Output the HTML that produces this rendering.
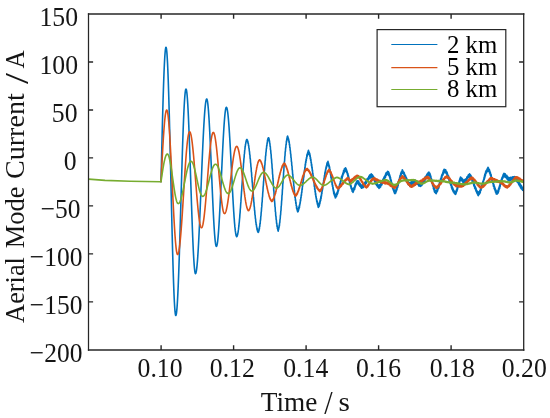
<!DOCTYPE html>
<html lang="en"><head><meta charset="utf-8"><title>Aerial Mode Current</title>
<style>html,body{margin:0;padding:0;background:#fff}body{width:550px;height:418px;overflow:hidden}</style></head>
<body>
<svg width="550" height="418" viewBox="0 0 550 418" style="display:block">
<rect x="0" y="0" width="550" height="418" fill="#fff"/>
<clipPath id="c"><rect x="88.5" y="14.1" width="435.2" height="335.8"/></clipPath>
<g clip-path="url(#c)" fill="none" stroke-linejoin="round" stroke-linecap="round">
<path d="M161.00,181.80 L161.20,173.35 L161.40,164.94 L161.60,156.60 L161.80,148.35 L162.00,140.24 L162.20,132.29 L162.40,124.53 L162.60,117.00 L162.80,109.73 L163.00,102.74 L163.20,96.07 L163.40,89.73 L163.60,83.75 L163.80,78.17 L164.00,72.99 L164.20,68.24 L164.40,63.94 L164.60,60.10 L164.80,56.75 L165.00,53.88 L165.20,51.53 L165.40,49.68 L165.60,48.36 L165.80,47.57 L166.00,47.30 L166.20,47.58 L166.40,48.40 L166.60,49.77 L166.80,51.69 L167.00,54.13 L167.20,57.10 L167.40,60.58 L167.60,64.56 L167.80,69.01 L168.00,73.93 L168.20,79.29 L168.40,85.07 L168.60,91.24 L168.80,97.79 L169.00,104.68 L169.20,111.88 L169.40,119.37 L169.60,127.12 L169.80,135.09 L170.00,143.24 L170.20,151.56 L170.40,160.00 L170.60,168.52 L170.80,177.10 L171.00,185.70 L171.20,194.28 L171.40,202.80 L171.60,211.24 L171.80,219.56 L172.00,227.71 L172.20,235.68 L172.40,243.43 L172.60,250.92 L172.80,258.12 L173.00,265.01 L173.20,271.56 L173.40,277.73 L173.60,283.51 L173.80,288.87 L174.00,293.79 L174.20,298.24 L174.40,302.22 L174.60,305.70 L174.80,308.67 L175.00,311.11 L175.20,313.03 L175.40,314.40 L175.60,315.22 L175.80,315.50 L176.00,315.29 L176.20,314.64 L176.40,313.57 L176.60,312.08 L176.80,310.17 L177.00,307.85 L177.20,305.13 L177.40,302.02 L177.60,298.54 L177.80,294.68 L178.00,290.48 L178.20,285.94 L178.40,281.09 L178.60,275.93 L178.80,270.50 L179.00,264.81 L179.20,258.88 L179.40,252.73 L179.60,246.39 L179.80,239.89 L180.00,233.24 L180.20,226.48 L180.40,219.62 L180.60,212.70 L180.80,205.74 L181.00,198.76 L181.20,191.80 L181.40,184.88 L181.60,178.02 L181.80,171.26 L182.00,164.61 L182.20,158.11 L182.40,151.77 L182.60,145.63 L182.80,139.69 L183.00,134.00 L183.20,128.57 L183.40,123.41 L183.60,118.56 L183.80,114.02 L184.00,109.82 L184.20,105.96 L184.40,102.48 L184.60,99.37 L184.80,96.65 L185.00,94.33 L185.20,92.42 L185.40,90.93 L185.60,89.86 L185.80,89.21 L186.00,89.00 L186.20,89.20 L186.40,89.79 L186.59,90.77 L186.79,92.15 L186.99,93.90 L187.19,96.03 L187.39,98.52 L187.58,101.37 L187.78,104.56 L187.98,108.07 L188.18,111.91 L188.38,116.03 L188.57,120.44 L188.77,125.11 L188.97,130.02 L189.17,135.15 L189.36,140.48 L189.56,145.98 L189.76,151.63 L189.96,157.41 L190.16,163.29 L190.35,169.25 L190.55,175.26 L190.75,181.30 L190.95,187.34 L191.15,193.35 L191.34,199.31 L191.54,205.19 L191.74,210.97 L191.94,216.62 L192.14,222.12 L192.33,227.45 L192.53,232.58 L192.73,237.49 L192.93,242.16 L193.12,246.57 L193.32,250.69 L193.52,254.53 L193.72,258.04 L193.92,261.23 L194.11,264.08 L194.31,266.57 L194.51,268.70 L194.71,270.45 L194.91,271.83 L195.10,272.81 L195.30,273.40 L195.50,273.60 L195.70,273.46 L195.90,273.05 L196.10,272.37 L196.30,271.41 L196.50,270.19 L196.70,268.70 L196.90,266.95 L197.10,264.95 L197.30,262.71 L197.50,260.22 L197.70,257.50 L197.90,254.55 L198.10,251.39 L198.30,248.03 L198.50,244.47 L198.70,240.73 L198.90,236.82 L199.10,232.75 L199.30,228.53 L199.50,224.18 L199.70,219.71 L199.90,215.13 L200.10,210.47 L200.30,205.73 L200.50,200.92 L200.70,196.07 L200.90,191.19 L201.10,186.30 L201.30,181.41 L201.50,176.53 L201.70,171.68 L201.90,166.87 L202.10,162.13 L202.30,157.47 L202.50,152.89 L202.70,148.42 L202.90,144.07 L203.10,139.85 L203.30,135.78 L203.50,131.87 L203.70,128.13 L203.90,124.57 L204.10,121.21 L204.30,118.05 L204.50,115.10 L204.70,112.38 L204.90,109.89 L205.10,107.65 L205.30,105.65 L205.50,103.90 L205.70,102.41 L205.90,101.19 L206.10,100.23 L206.30,99.55 L206.50,99.14 L206.70,99.00 L206.90,99.15 L207.10,99.61 L207.29,100.36 L207.49,101.41 L207.69,102.75 L207.89,104.39 L208.09,106.30 L208.28,108.48 L208.48,110.93 L208.68,113.64 L208.88,116.58 L209.08,119.76 L209.27,123.15 L209.47,126.75 L209.67,130.54 L209.87,134.49 L210.07,138.61 L210.26,142.87 L210.46,147.25 L210.66,151.73 L210.86,156.30 L211.06,160.94 L211.25,165.62 L211.45,170.34 L211.65,175.06 L211.85,179.78 L212.04,184.46 L212.24,189.10 L212.44,193.67 L212.64,198.15 L212.84,202.53 L213.03,206.79 L213.23,210.91 L213.43,214.86 L213.63,218.65 L213.83,222.25 L214.02,225.64 L214.22,228.82 L214.42,231.76 L214.62,234.47 L214.82,236.92 L215.01,239.10 L215.21,241.01 L215.41,242.65 L215.61,243.99 L215.81,245.04 L216.00,245.79 L216.20,246.25 L216.40,246.40 L216.60,246.26 L216.80,245.85 L217.00,245.17 L217.20,244.21 L217.40,243.00 L217.60,241.52 L217.80,239.78 L218.00,237.80 L218.20,235.57 L218.40,233.12 L218.60,230.44 L218.80,227.55 L219.00,224.46 L219.20,221.18 L219.40,217.73 L219.60,214.12 L219.80,210.36 L220.00,206.46 L220.20,202.45 L220.40,198.34 L220.60,194.15 L220.80,189.88 L221.00,185.57 L221.20,181.22 L221.40,176.85 L221.60,172.48 L221.80,168.13 L222.00,163.82 L222.20,159.55 L222.40,155.36 L222.60,151.25 L222.80,147.24 L223.00,143.34 L223.20,139.58 L223.40,135.97 L223.60,132.52 L223.80,129.24 L224.00,126.15 L224.20,123.26 L224.40,120.58 L224.60,118.13 L224.80,115.90 L225.00,113.92 L225.20,112.18 L225.40,110.70 L225.60,109.49 L225.80,108.53 L226.00,107.85 L226.20,107.44 L226.40,107.30 L226.60,107.42 L226.80,107.79 L227.01,108.40 L227.21,109.25 L227.41,110.34 L227.61,111.66 L227.81,113.21 L228.02,114.98 L228.22,116.96 L228.42,119.18 L228.62,121.54 L228.82,124.18 L229.03,126.87 L229.23,129.90 L229.43,132.90 L229.63,136.23 L229.83,139.51 L230.04,143.15 L230.24,146.62 L230.44,150.49 L230.64,154.13 L230.84,158.14 L231.05,161.84 L231.25,165.97 L231.45,169.78 L231.65,173.96 L231.85,177.71 L232.05,181.90 L232.26,185.54 L232.46,189.68 L232.66,193.11 L232.86,197.13 L233.06,200.51 L233.27,204.33 L233.47,207.34 L233.67,210.98 L233.87,213.66 L234.07,217.03 L234.28,219.36 L234.48,222.34 L234.68,224.39 L234.88,226.91 L235.08,228.58 L235.29,230.65 L235.49,231.78 L235.69,233.51 L235.89,234.24 L236.09,235.61 L236.30,235.63 L236.50,236.57 L236.70,236.20 L236.90,236.56 L237.10,235.75 L237.30,235.96 L237.50,234.73 L237.70,234.36 L237.90,232.90 L238.10,232.34 L238.30,230.37 L238.50,229.39 L238.70,227.22 L238.90,226.00 L239.10,223.42 L239.30,222.04 L239.50,219.34 L239.70,217.62 L239.90,214.38 L240.10,212.62 L240.30,209.24 L240.50,207.35 L240.70,203.81 L240.90,201.89 L241.10,198.02 L241.30,195.83 L241.50,192.17 L241.70,190.08 L241.90,186.17 L242.10,184.10 L242.30,180.48 L242.50,178.22 L242.70,174.65 L242.90,172.56 L243.10,169.00 L243.30,167.38 L243.50,163.69 L243.70,162.27 L243.90,158.89 L244.10,157.61 L244.30,154.37 L244.50,153.38 L244.70,150.31 L244.90,149.43 L245.10,147.09 L245.30,146.27 L245.50,144.27 L245.70,143.96 L245.90,142.07 L246.10,141.96 L246.30,140.30 L246.50,140.96 L246.70,139.48 L246.90,140.54 L247.10,139.57 L247.30,140.94 L247.51,140.22 L247.71,142.05 L247.91,141.46 L248.11,143.60 L248.31,143.38 L248.51,145.59 L248.72,145.62 L248.92,148.06 L249.12,148.44 L249.32,151.04 L249.52,151.66 L249.72,154.70 L249.93,154.85 L250.13,158.46 L250.33,158.85 L250.53,162.32 L250.73,163.55 L250.94,166.80 L251.14,167.90 L251.34,171.86 L251.54,172.50 L251.74,176.64 L251.94,177.57 L252.15,181.73 L252.35,182.75 L252.55,186.45 L252.75,187.92 L252.95,191.42 L253.16,192.60 L253.36,196.41 L253.56,197.79 L253.76,201.60 L253.96,202.52 L254.16,206.35 L254.37,207.08 L254.57,210.53 L254.77,211.34 L254.97,214.86 L255.17,215.27 L255.38,218.40 L255.58,218.79 L255.78,222.08 L255.98,222.24 L256.18,224.94 L256.38,224.53 L256.59,227.11 L256.79,227.02 L256.99,229.32 L257.19,228.64 L257.39,231.00 L257.59,230.02 L257.80,231.98 L258.00,230.82 L258.20,232.40 L258.40,231.13 L258.60,231.97 L258.79,230.05 L258.99,230.71 L259.19,228.17 L259.39,228.81 L259.59,226.39 L259.78,226.35 L259.98,223.28 L260.18,223.67 L260.38,220.06 L260.58,220.15 L260.77,216.65 L260.97,215.71 L261.17,212.46 L261.37,211.45 L261.57,207.92 L261.77,206.88 L261.96,202.89 L262.16,201.99 L262.36,197.88 L262.56,196.69 L262.76,192.54 L262.95,191.24 L263.15,187.05 L263.35,185.51 L263.55,181.67 L263.75,180.42 L263.94,176.11 L264.14,174.99 L264.34,171.00 L264.54,169.82 L264.74,165.42 L264.93,164.99 L265.13,160.81 L265.33,160.39 L265.53,156.10 L265.73,155.83 L265.93,152.46 L266.12,151.60 L266.32,148.73 L266.52,148.33 L266.72,145.30 L266.92,145.66 L267.11,142.70 L267.31,143.21 L267.51,140.16 L267.71,141.24 L267.91,138.63 L268.10,139.83 L268.30,137.70 L268.50,138.71 L268.70,137.80 L268.90,139.81 L269.11,138.73 L269.31,141.31 L269.51,140.74 L269.71,143.28 L269.91,143.51 L270.12,146.49 L270.32,146.44 L270.52,150.05 L270.72,150.19 L270.93,153.61 L271.13,154.21 L271.33,158.31 L271.53,158.90 L271.73,162.77 L271.94,164.02 L272.14,168.20 L272.34,169.11 L272.54,173.81 L272.74,174.99 L272.95,178.95 L273.15,180.40 L273.35,185.14 L273.55,186.42 L273.75,190.74 L273.96,191.63 L274.16,196.19 L274.36,196.98 L274.56,201.72 L274.76,202.85 L274.97,206.77 L275.17,207.28 L275.37,211.80 L275.57,212.02 L275.77,216.10 L275.98,216.23 L276.18,219.76 L276.38,219.90 L276.58,223.42 L276.79,223.15 L276.99,226.37 L277.19,225.77 L277.39,228.52 L277.59,227.61 L277.80,230.12 L278.00,228.78 L278.20,231.09 L278.40,228.81 L278.60,229.70 L278.80,227.18 L279.00,228.07 L279.20,225.16 L279.40,226.00 L279.60,222.81 L279.80,222.63 L280.00,219.50 L280.20,218.98 L280.40,215.49 L280.60,214.75 L280.80,211.27 L281.00,210.57 L281.20,205.96 L281.40,205.13 L281.60,201.14 L281.80,199.86 L282.00,195.17 L282.20,194.62 L282.40,189.74 L282.60,188.59 L282.80,183.75 L283.00,182.87 L283.20,177.88 L283.40,177.29 L283.60,172.46 L283.80,171.23 L284.00,166.54 L284.20,165.80 L284.40,161.77 L284.60,160.83 L284.80,156.63 L285.00,155.84 L285.20,151.81 L285.40,151.52 L285.60,147.76 L285.80,148.07 L286.00,144.48 L286.20,144.65 L286.40,141.07 L286.60,141.97 L286.80,138.77 L287.00,139.63 L287.20,136.90 L287.40,138.66 L287.60,135.99 L287.80,138.42 L288.00,137.07 L288.20,139.50 L288.40,138.24 L288.60,140.67 L288.80,139.86 L289.00,142.36 L289.20,141.54 L289.40,144.90 L289.60,144.33 L289.80,147.70 L290.00,147.50 L290.20,150.54 L290.40,150.75 L290.60,154.12 L290.80,154.11 L291.00,157.63 L291.20,157.96 L291.40,161.80 L291.60,161.88 L291.80,165.96 L292.00,165.90 L292.20,169.77 L292.40,170.15 L292.60,174.12 L292.80,174.23 L293.00,178.12 L293.20,177.98 L293.40,181.97 L293.60,182.23 L293.80,186.07 L294.00,186.04 L294.20,190.36 L294.40,190.29 L294.60,194.17 L294.80,193.99 L295.00,197.64 L295.20,196.90 L295.40,200.46 L295.60,199.76 L295.80,203.57 L296.00,202.26 L296.20,205.74 L296.40,205.35 L296.60,208.39 L296.80,206.62 L297.00,209.97 L297.20,208.42 L297.40,211.29 L297.60,209.33 L297.80,211.94 L298.00,209.43 L298.20,211.54 L298.41,208.68 L298.61,210.23 L298.81,207.42 L299.01,208.58 L299.21,205.87 L299.42,207.66 L299.62,204.52 L299.82,205.13 L300.02,202.48 L300.22,203.10 L300.42,199.64 L300.63,200.88 L300.83,197.60 L301.03,197.94 L301.23,194.88 L301.43,195.53 L301.64,191.98 L301.84,192.46 L302.04,188.87 L302.24,189.71 L302.44,185.78 L302.65,186.18 L302.85,182.41 L303.05,182.90 L303.25,179.39 L303.45,179.80 L303.65,176.09 L303.86,177.12 L304.06,173.11 L304.26,173.96 L304.46,170.07 L304.66,170.88 L304.87,167.41 L305.07,167.85 L305.27,163.99 L305.47,165.31 L305.67,161.52 L305.88,162.74 L306.08,159.35 L306.28,160.75 L306.48,157.55 L306.68,158.49 L306.88,154.90 L307.09,156.67 L307.29,153.89 L307.49,155.44 L307.69,152.47 L307.89,154.10 L308.10,151.13 L308.30,153.37 L308.50,150.26 L308.70,153.28 L308.90,151.58 L309.10,154.36 L309.30,152.62 L309.50,155.04 L309.70,153.27 L309.90,156.33 L310.10,155.07 L310.30,158.90 L310.50,157.36 L310.70,160.46 L310.90,159.24 L311.10,162.98 L311.30,162.25 L311.50,165.90 L311.70,164.20 L311.90,168.22 L312.10,167.01 L312.30,171.01 L312.50,170.06 L312.70,173.94 L312.90,173.21 L313.10,176.79 L313.30,175.84 L313.50,179.94 L313.70,179.66 L313.90,182.86 L314.10,182.77 L314.30,186.38 L314.50,185.25 L314.70,189.39 L314.90,188.18 L315.10,192.21 L315.30,190.76 L315.50,194.88 L315.70,193.61 L315.90,197.26 L316.10,196.21 L316.30,199.27 L316.50,198.41 L316.70,201.42 L316.90,200.29 L317.10,203.25 L317.30,201.32 L317.50,204.74 L317.70,202.73 L317.90,206.32 L318.10,204.44 L318.30,207.54 L318.50,205.08 L318.70,207.04 L318.90,204.17 L319.09,206.33 L319.29,203.55 L319.49,205.10 L319.69,201.97 L319.89,203.66 L320.08,200.36 L320.28,202.06 L320.48,198.87 L320.68,200.41 L320.87,196.64 L321.07,198.77 L321.27,195.16 L321.47,196.30 L321.67,192.22 L321.86,193.85 L322.06,189.82 L322.26,191.26 L322.46,187.64 L322.66,189.14 L322.85,185.47 L323.05,185.97 L323.25,182.74 L323.45,184.31 L323.64,180.27 L323.84,181.65 L324.04,177.94 L324.24,178.78 L324.44,175.56 L324.63,176.78 L324.83,172.72 L325.03,174.52 L325.23,170.98 L325.43,172.43 L325.62,168.99 L325.82,170.27 L326.02,167.03 L326.22,168.48 L326.41,165.72 L326.61,167.24 L326.81,163.69 L327.01,165.95 L327.21,162.58 L327.40,164.47 L327.60,162.13 L327.80,164.00 L328.00,161.41 L328.19,164.49 L328.39,162.77 L328.59,165.84 L328.79,163.98 L328.98,166.96 L329.18,165.64 L329.38,168.70 L329.58,166.90 L329.77,171.10 L329.97,169.27 L330.17,172.97 L330.37,171.69 L330.56,175.08 L330.76,173.81 L330.96,177.75 L331.16,175.81 L331.35,179.93 L331.55,178.77 L331.75,182.19 L331.94,180.33 L332.14,185.06 L332.34,183.03 L332.54,186.59 L332.73,185.31 L332.93,189.21 L333.13,187.62 L333.33,191.13 L333.52,189.45 L333.72,193.41 L333.92,191.05 L334.12,194.77 L334.31,192.39 L334.51,195.64 L334.71,193.57 L334.91,196.74 L335.10,195.32 L335.30,197.93 L335.50,195.56 L335.70,197.64 L335.91,195.06 L336.11,196.68 L336.31,194.36 L336.51,196.34 L336.71,192.94 L336.92,195.14 L337.12,192.47 L337.32,194.50 L337.52,191.27 L337.72,193.44 L337.93,189.96 L338.13,191.97 L338.33,189.16 L338.53,190.79 L338.73,187.51 L338.94,189.02 L339.14,186.03 L339.34,187.74 L339.54,184.55 L339.74,186.87 L339.95,183.18 L340.15,185.18 L340.35,181.49 L340.55,183.79 L340.75,180.19 L340.96,181.66 L341.16,178.16 L341.36,180.00 L341.56,176.67 L341.76,179.08 L341.97,175.85 L342.17,178.15 L342.37,174.83 L342.57,176.38 L342.77,173.60 L342.98,175.23 L343.18,172.30 L343.38,174.18 L343.58,170.45 L343.78,173.42 L343.99,170.03 L344.19,172.38 L344.39,168.89 L344.59,171.41 L344.79,168.45 L345.00,170.45 L345.20,168.05 L345.40,169.95 L345.60,167.72 L345.80,170.83 L346.00,168.64 L346.20,171.97 L346.40,169.39 L346.60,172.42 L346.80,170.65 L347.00,173.17 L347.20,171.67 L347.40,174.37 L347.60,173.10 L347.80,176.21 L348.00,173.86 L348.20,177.29 L348.40,175.66 L348.60,179.22 L348.80,177.13 L349.00,180.45 L349.20,179.41 L349.40,182.30 L349.60,180.28 L349.80,183.66 L350.00,181.86 L350.20,185.27 L350.40,183.87 L350.60,186.42 L350.80,185.06 L351.00,188.09 L351.20,186.05 L351.40,188.95 L351.60,187.64 L351.80,189.91 L352.00,188.60 L352.20,191.37 L352.40,189.05 L352.60,191.68 L352.80,189.44 L353.00,192.42 L353.20,188.76 L353.40,191.63 L353.60,188.08 L353.80,190.28 L354.00,188.14 L354.20,189.86 L354.40,186.95 L354.60,189.34 L354.80,185.80 L355.00,187.91 L355.20,184.34 L355.40,186.76 L355.60,183.32 L355.80,185.56 L356.00,182.94 L356.20,184.71 L356.40,181.82 L356.60,183.83 L356.80,181.00 L357.00,183.15 L357.20,181.07 L357.40,183.47 L357.60,180.86 L357.80,183.24 L358.00,180.84 L358.20,183.75 L358.40,181.76 L358.60,184.57 L358.80,181.42 L359.00,185.08 L359.20,182.68 L359.40,185.41 L359.60,183.25 L359.80,186.08 L360.00,183.26 L360.20,186.46 L360.40,184.16 L360.60,187.04 L360.80,184.58 L361.00,187.52 L361.20,184.89 L361.40,188.31 L361.60,185.33 L361.80,188.27 L362.00,185.88 L362.20,187.64 L362.40,185.53 L362.60,187.36 L362.80,184.86 L363.00,187.66 L363.20,184.76 L363.40,187.36 L363.60,184.24 L363.80,186.20 L364.00,184.17 L364.20,185.86 L364.40,183.46 L364.60,185.19 L364.80,182.64 L365.00,185.08 L365.20,182.04 L365.40,184.40 L365.60,181.20 L365.80,183.80 L366.00,181.39 L366.20,183.57 L366.40,180.11 L366.60,182.87 L366.80,179.17 L367.00,181.46 L367.20,179.24 L367.40,180.84 L367.60,178.42 L367.80,181.00 L368.00,178.15 L368.20,180.02 L368.40,177.52 L368.60,179.74 L368.80,176.25 L369.00,178.49 L369.20,176.09 L369.40,178.19 L369.60,175.17 L369.80,178.45 L370.00,175.09 L370.20,178.09 L370.40,174.99 L370.60,177.68 L370.80,174.60 L371.00,176.76 L371.20,173.86 L371.40,176.99 L371.60,174.75 L371.80,177.45 L372.00,174.45 L372.20,177.56 L372.40,174.84 L372.60,177.68 L372.80,175.48 L373.00,178.79 L373.20,176.61 L373.40,178.74 L373.60,176.50 L373.80,179.92 L374.00,177.53 L374.20,180.30 L374.40,178.53 L374.60,181.70 L374.80,179.21 L375.00,181.71 L375.20,179.55 L375.40,182.67 L375.60,180.44 L375.80,184.15 L376.00,181.58 L376.20,184.66 L376.40,182.30 L376.60,185.43 L376.80,182.70 L377.00,185.79 L377.20,183.34 L377.40,186.70 L377.60,184.69 L377.80,186.92 L378.00,184.72 L378.20,187.39 L378.40,185.61 L378.60,187.69 L378.80,185.23 L379.00,188.41 L379.20,185.10 L379.40,187.86 L379.61,185.12 L379.81,187.72 L380.01,184.67 L380.21,186.71 L380.42,184.02 L380.62,187.03 L380.82,183.64 L381.02,185.65 L381.23,182.75 L381.43,184.76 L381.63,182.44 L381.83,184.90 L382.03,181.39 L382.24,184.03 L382.44,180.54 L382.64,183.14 L382.84,179.40 L383.05,181.77 L383.25,179.26 L383.45,181.27 L383.65,178.06 L383.85,179.80 L384.06,177.02 L384.26,178.83 L384.46,176.54 L384.66,178.72 L384.87,175.90 L385.07,177.43 L385.27,175.10 L385.47,177.35 L385.67,173.81 L385.88,175.95 L386.08,172.79 L386.28,175.53 L386.48,172.67 L386.69,175.05 L386.89,172.34 L387.09,174.30 L387.29,171.80 L387.50,173.85 L387.70,171.25 L387.90,174.00 L388.10,171.85 L388.29,174.79 L388.49,171.79 L388.69,175.33 L388.89,172.59 L389.08,175.50 L389.28,173.83 L389.48,176.91 L389.67,174.76 L389.87,178.10 L390.07,175.98 L390.27,179.65 L390.46,177.36 L390.66,180.99 L390.86,179.34 L391.06,182.61 L391.25,180.21 L391.45,184.26 L391.65,182.26 L391.84,185.04 L392.04,183.60 L392.24,186.66 L392.44,184.63 L392.63,188.36 L392.83,186.05 L393.03,189.49 L393.23,187.96 L393.42,190.37 L393.62,188.81 L393.82,191.49 L394.01,189.33 L394.21,192.78 L394.41,190.26 L394.61,193.38 L394.80,191.47 L395.00,193.64 L395.20,191.10 L395.39,193.08 L395.59,190.91 L395.79,192.90 L395.99,189.42 L396.18,191.63 L396.38,188.34 L396.58,190.68 L396.78,187.20 L396.97,189.72 L397.17,186.23 L397.37,187.95 L397.56,184.91 L397.76,187.23 L397.96,183.69 L398.16,185.72 L398.35,181.59 L398.55,183.67 L398.75,180.28 L398.95,182.71 L399.14,179.36 L399.34,181.18 L399.54,177.77 L399.74,179.70 L399.93,175.89 L400.13,177.84 L400.33,175.09 L400.52,176.87 L400.72,173.21 L400.92,175.94 L401.12,172.38 L401.31,175.11 L401.51,171.53 L401.71,173.56 L401.91,170.99 L402.10,173.08 L402.30,169.91 L402.50,173.04 L402.70,170.24 L402.90,173.56 L403.10,171.50 L403.30,173.63 L403.50,171.87 L403.70,174.30 L403.90,172.27 L404.10,175.30 L404.30,172.68 L404.50,176.61 L404.70,174.35 L404.90,176.95 L405.10,174.94 L405.30,178.03 L405.50,175.56 L405.70,178.91 L405.90,176.87 L406.10,179.65 L406.30,177.35 L406.50,180.36 L406.70,178.37 L406.90,181.45 L407.10,179.41 L407.30,182.48 L407.50,179.96 L407.70,183.05 L407.90,181.50 L408.10,184.53 L408.30,181.77 L408.50,184.57 L408.70,182.91 L408.90,184.99 L409.10,183.22 L409.30,185.36 L409.50,182.80 L409.70,186.13 L409.89,182.89 L410.09,185.60 L410.29,182.62 L410.48,185.45 L410.68,182.88 L410.88,185.03 L411.07,182.10 L411.27,184.89 L411.46,182.27 L411.66,184.49 L411.86,181.60 L412.05,184.33 L412.25,181.90 L412.45,184.38 L412.64,181.71 L412.84,183.50 L413.04,180.80 L413.23,183.85 L413.43,180.78 L413.62,183.11 L413.82,180.52 L414.02,183.29 L414.21,180.62 L414.41,182.55 L414.61,179.92 L414.80,182.81 L415.00,179.93 L415.20,182.62 L415.39,180.23 L415.59,182.94 L415.79,180.61 L415.98,182.84 L416.18,180.97 L416.38,183.04 L416.57,181.18 L416.77,183.98 L416.96,181.17 L417.16,184.22 L417.36,182.10 L417.55,184.56 L417.75,181.94 L417.95,184.46 L418.14,182.60 L418.34,184.74 L418.54,182.26 L418.73,185.85 L418.93,182.50 L419.12,185.50 L419.32,182.90 L419.52,185.95 L419.71,183.08 L419.91,186.09 L420.11,183.48 L420.30,186.54 L420.50,184.09 L420.70,186.23 L420.90,183.58 L421.10,186.01 L421.30,182.67 L421.50,185.43 L421.70,182.82 L421.90,185.39 L422.10,182.10 L422.30,184.49 L422.50,181.52 L422.70,183.93 L422.90,181.46 L423.10,183.35 L423.30,180.62 L423.50,182.45 L423.70,179.35 L423.90,182.21 L424.10,178.95 L424.30,181.54 L424.50,178.27 L424.70,180.75 L424.90,177.15 L425.10,180.17 L425.30,177.17 L425.50,178.85 L425.70,176.55 L425.90,178.86 L426.10,175.70 L426.30,177.87 L426.50,175.19 L426.70,176.80 L426.90,174.18 L427.10,176.13 L427.30,173.76 L427.50,176.05 L427.70,173.33 L427.90,175.63 L428.10,172.73 L428.30,175.10 L428.50,172.25 L428.70,175.10 L428.90,172.01 L429.10,175.10 L429.29,172.85 L429.49,175.75 L429.69,172.97 L429.89,176.52 L430.08,173.80 L430.28,177.33 L430.48,175.08 L430.67,178.04 L430.87,176.24 L431.07,179.76 L431.27,178.29 L431.46,180.87 L431.66,179.16 L431.86,182.78 L432.05,181.08 L432.25,184.03 L432.45,181.82 L432.65,185.61 L432.84,183.15 L433.04,186.49 L433.24,185.23 L433.43,188.72 L433.63,186.09 L433.83,189.70 L434.03,187.27 L434.22,191.18 L434.42,188.24 L434.62,192.32 L434.81,190.03 L435.01,192.27 L435.21,190.88 L435.41,192.91 L435.60,190.60 L435.80,193.50 L436.00,190.75 L436.20,193.63 L436.41,190.57 L436.61,192.71 L436.81,190.05 L437.01,191.89 L437.22,188.70 L437.42,191.50 L437.62,188.67 L437.82,190.27 L438.02,187.39 L438.23,188.76 L438.43,185.66 L438.63,188.33 L438.83,185.00 L439.04,187.11 L439.24,183.73 L439.44,185.32 L439.64,181.81 L439.85,184.64 L440.05,180.85 L440.25,183.25 L440.45,179.13 L440.65,181.46 L440.86,178.28 L441.06,180.31 L441.26,176.88 L441.46,178.90 L441.67,175.07 L441.87,177.82 L442.07,174.51 L442.27,175.97 L442.48,173.53 L442.68,175.33 L442.88,172.28 L443.08,174.63 L443.28,170.85 L443.49,173.16 L443.69,170.13 L443.89,173.20 L444.09,169.37 L444.30,171.70 L444.50,169.74 L444.70,171.22 L444.90,169.46 L445.10,171.64 L445.30,169.90 L445.50,172.42 L445.70,169.78 L445.90,173.11 L446.10,171.07 L446.30,173.80 L446.50,171.42 L446.70,174.17 L446.90,172.10 L447.10,175.75 L447.30,172.89 L447.50,176.70 L447.70,174.30 L447.90,177.24 L448.10,175.59 L448.30,178.06 L448.50,175.79 L448.70,179.21 L448.90,176.97 L449.10,180.93 L449.30,178.09 L449.50,181.36 L449.70,179.29 L449.90,182.99 L450.10,181.12 L450.30,183.88 L450.50,182.34 L450.70,185.14 L450.90,183.57 L451.10,186.00 L451.30,184.58 L451.50,187.63 L451.70,185.29 L451.90,188.87 L452.10,186.66 L452.30,189.64 L452.50,187.85 L452.70,190.48 L452.90,187.94 L453.10,191.82 L453.30,189.63 L453.50,191.90 L453.70,190.17 L453.90,192.41 L454.10,191.05 L454.30,193.46 L454.50,191.59 L454.70,193.78 L454.90,191.48 L455.10,194.23 L455.30,192.22 L455.50,194.46 L455.70,191.58 L455.90,193.91 L456.10,190.69 L456.30,192.95 L456.50,189.83 L456.70,191.52 L456.90,188.87 L457.10,190.90 L457.30,186.87 L457.50,189.51 L457.70,186.06 L457.90,188.05 L458.10,183.85 L458.30,185.94 L458.50,183.04 L458.70,184.78 L458.90,181.75 L459.10,183.34 L459.30,180.48 L459.50,182.66 L459.70,179.09 L459.90,181.68 L460.10,178.05 L460.30,180.43 L460.50,177.07 L460.70,179.55 L460.89,177.25 L461.09,180.28 L461.28,177.72 L461.48,180.01 L461.67,178.05 L461.86,180.85 L462.06,178.21 L462.25,181.14 L462.45,179.13 L462.64,181.63 L462.84,179.33 L463.03,182.84 L463.22,180.27 L463.42,183.06 L463.61,180.55 L463.81,182.58 L464.00,180.85 L464.20,183.44 L464.40,179.89 L464.60,182.53 L464.80,179.52 L465.00,182.72 L465.20,179.62 L465.40,181.90 L465.60,178.95 L465.80,181.08 L466.00,179.01 L466.20,180.62 L466.40,178.43 L466.60,180.43 L466.80,177.29 L467.00,179.47 L467.20,176.46 L467.40,178.70 L467.60,176.41 L467.80,178.28 L468.00,175.92 L468.20,177.57 L468.40,174.77 L468.60,177.12 L468.80,174.55 L469.00,176.80 L469.20,174.90 L469.40,176.96 L469.60,173.79 L469.80,177.34 L470.00,174.73 L470.21,176.95 L470.41,174.77 L470.61,178.27 L470.81,175.31 L471.02,178.79 L471.22,176.08 L471.42,179.78 L471.62,177.24 L471.83,180.30 L472.03,178.09 L472.23,181.37 L472.43,178.89 L472.63,182.21 L472.84,179.78 L473.04,183.26 L473.24,180.87 L473.44,184.14 L473.65,182.63 L473.85,185.95 L474.05,183.21 L474.25,186.39 L474.45,184.50 L474.66,188.20 L474.86,186.11 L475.06,188.45 L475.26,186.67 L475.47,189.65 L475.67,187.56 L475.87,191.00 L476.07,188.63 L476.27,191.48 L476.48,190.11 L476.68,192.85 L476.88,190.60 L477.08,193.08 L477.29,191.35 L477.49,194.31 L477.69,192.13 L477.89,195.09 L478.10,191.87 L478.30,195.59 L478.50,192.47 L478.70,195.00 L478.90,191.99 L479.09,194.35 L479.29,191.82 L479.49,194.01 L479.69,190.82 L479.89,193.50 L480.08,190.32 L480.28,192.48 L480.48,188.68 L480.68,190.71 L480.88,188.07 L481.07,190.25 L481.27,186.55 L481.47,188.58 L481.67,185.30 L481.86,187.48 L482.06,183.96 L482.26,185.82 L482.46,183.40 L482.66,185.39 L482.85,181.49 L483.05,183.43 L483.25,180.52 L483.45,182.25 L483.65,179.25 L483.84,180.51 L484.04,177.57 L484.24,179.43 L484.44,175.89 L484.64,178.33 L484.83,174.31 L485.03,176.88 L485.23,173.42 L485.43,175.42 L485.62,171.88 L485.82,174.06 L486.02,170.88 L486.22,173.21 L486.42,170.27 L486.61,172.67 L486.81,169.73 L487.01,171.38 L487.21,168.74 L487.41,171.34 L487.60,167.97 L487.80,170.14 L488.00,167.30 L488.20,170.51 L488.40,167.74 L488.60,171.14 L488.80,169.22 L489.00,171.49 L489.20,169.23 L489.40,172.83 L489.60,170.09 L489.80,173.42 L490.00,171.48 L490.20,174.83 L490.40,172.56 L490.60,175.60 L490.80,173.96 L491.00,176.90 L491.20,174.87 L491.40,178.99 L491.60,177.02 L491.80,180.13 L492.00,178.19 L492.20,181.48 L492.40,179.72 L492.60,182.97 L492.80,181.07 L493.00,184.07 L493.20,181.98 L493.40,186.14 L493.60,183.68 L493.80,186.81 L494.00,184.72 L494.20,188.66 L494.40,186.18 L494.60,189.36 L494.80,187.30 L495.00,190.53 L495.20,188.58 L495.40,192.03 L495.60,189.44 L495.80,192.61 L496.00,190.26 L496.20,193.89 L496.40,191.13 L496.60,193.72 L496.80,192.14 L497.00,194.21 L497.20,192.10 L497.40,193.74 L497.60,190.91 L497.80,192.98 L498.00,190.68 L498.20,192.96 L498.40,189.02 L498.60,191.69 L498.80,187.94 L499.00,189.99 L499.20,186.77 L499.40,188.99 L499.60,185.61 L499.80,188.14 L500.00,184.17 L500.20,186.39 L500.40,182.68 L500.60,184.76 L500.80,181.24 L501.00,183.69 L501.20,179.79 L501.40,181.73 L501.60,178.70 L501.80,180.95 L502.00,177.67 L502.20,179.45 L502.40,176.69 L502.60,178.36 L502.80,175.79 L503.00,177.97 L503.20,174.66 L503.40,176.50 L503.60,173.71 L503.80,176.36 L504.00,173.26 L504.20,176.19 L504.39,173.75 L504.59,176.85 L504.79,174.34 L504.98,177.05 L505.18,173.74 L505.38,176.83 L505.57,174.79 L505.77,177.43 L505.96,175.21 L506.16,178.01 L506.36,175.56 L506.55,177.93 L506.75,175.33 L506.95,178.97 L507.14,176.14 L507.34,179.36 L507.54,176.74 L507.73,179.90 L507.93,177.05 L508.12,179.57 L508.32,177.78 L508.52,180.57 L508.71,177.65 L508.91,180.58 L509.11,177.70 L509.30,180.76 L509.50,178.44 L509.70,181.00 L509.91,177.52 L510.11,180.57 L510.32,177.41 L510.52,180.22 L510.72,177.68 L510.93,180.23 L511.13,177.54 L511.33,180.02 L511.54,177.23 L511.74,179.66 L511.95,177.87 L512.15,179.51 L512.35,177.62 L512.56,179.72 L512.76,176.69 L512.97,179.31 L513.17,176.87 L513.37,179.60 L513.58,177.06 L513.78,179.17 L513.98,177.09 L514.19,178.94 L514.39,176.53 L514.60,179.48 L514.80,176.75 L515.00,179.63 L515.20,177.32 L515.40,180.12 L515.60,176.89 L515.80,180.18 L516.00,177.73 L516.20,180.35 L516.40,178.07 L516.60,181.34 L516.80,178.20 L517.00,181.42 L517.20,179.06 L517.40,182.40 L517.60,179.28 L517.80,182.79 L518.00,180.12 L518.20,183.17 L518.40,180.63 L518.60,184.33 L518.80,181.69 L519.00,185.07 L519.20,182.10 L519.40,185.71 L519.60,183.52 L519.80,186.15 L520.00,183.45 L520.20,187.07 L520.40,184.60 L520.60,187.93 L520.80,185.41 L521.00,187.92 L521.20,185.32 L521.40,188.97 L521.60,185.93 L521.80,188.72 L522.00,186.95 L522.20,189.41 L522.40,187.48 L522.60,190.32 L522.80,187.43 L523.00,190.39 L523.20,188.09 L523.40,190.78 L523.60,189.50" stroke="#0072BD" stroke-width="1.6"/>
<path d="M161.00,181.80 L161.20,177.77 L161.41,173.76 L161.61,169.77 L161.81,165.82 L162.02,161.92 L162.22,158.09 L162.43,154.32 L162.63,150.65 L162.83,147.07 L163.04,143.60 L163.24,140.25 L163.44,137.03 L163.65,133.96 L163.85,131.03 L164.05,128.26 L164.26,125.66 L164.46,123.24 L164.66,121.01 L164.87,118.96 L165.07,117.11 L165.27,115.47 L165.48,114.03 L165.68,112.81 L165.89,111.80 L166.09,111.01 L166.29,110.45 L166.50,110.11 L166.70,110.00 L166.90,110.12 L167.10,110.47 L167.29,111.06 L167.49,111.88 L167.69,112.93 L167.89,114.20 L168.09,115.70 L168.29,117.41 L168.48,119.34 L168.68,121.47 L168.88,123.80 L169.08,126.32 L169.28,129.02 L169.47,131.90 L169.67,134.94 L169.87,138.13 L170.07,141.47 L170.27,144.94 L170.47,148.53 L170.66,152.24 L170.86,156.04 L171.06,159.92 L171.26,163.88 L171.46,167.90 L171.65,171.97 L171.85,176.07 L172.05,180.19 L172.25,184.31 L172.45,188.43 L172.65,192.53 L172.84,196.60 L173.04,200.62 L173.24,204.58 L173.44,208.46 L173.64,212.26 L173.83,215.97 L174.03,219.56 L174.23,223.03 L174.43,226.37 L174.63,229.56 L174.83,232.60 L175.02,235.48 L175.22,238.18 L175.42,240.70 L175.62,243.03 L175.82,245.16 L176.01,247.09 L176.21,248.80 L176.41,250.30 L176.61,251.57 L176.81,252.62 L177.01,253.44 L177.20,254.03 L177.40,254.38 L177.60,254.50 L177.80,254.42 L178.00,254.16 L178.20,253.74 L178.40,253.16 L178.60,252.41 L178.80,251.50 L179.00,250.43 L179.20,249.20 L179.40,247.81 L179.60,246.28 L179.80,244.60 L180.00,242.78 L180.20,240.83 L180.40,238.74 L180.60,236.53 L180.80,234.20 L181.00,231.76 L181.20,229.21 L181.40,226.56 L181.60,223.83 L181.80,221.00 L182.00,218.10 L182.20,215.14 L182.40,212.11 L182.60,209.03 L182.80,205.91 L183.00,202.75 L183.20,199.56 L183.40,196.36 L183.60,193.15 L183.80,189.94 L184.00,186.74 L184.20,183.55 L184.40,180.39 L184.60,177.27 L184.80,174.19 L185.00,171.16 L185.20,168.20 L185.40,165.30 L185.60,162.48 L185.80,159.74 L186.00,157.09 L186.20,154.54 L186.40,152.10 L186.60,149.77 L186.80,147.56 L187.00,145.47 L187.20,143.52 L187.40,141.70 L187.60,140.02 L187.80,138.49 L188.00,137.10 L188.20,135.87 L188.40,134.80 L188.60,133.89 L188.80,133.14 L189.00,132.56 L189.20,132.14 L189.40,131.88 L189.60,131.80 L189.80,131.87 L190.00,132.06 L190.19,132.39 L190.39,132.85 L190.59,133.44 L190.79,134.15 L190.99,134.99 L191.19,135.95 L191.38,137.03 L191.58,138.23 L191.78,139.54 L191.98,140.97 L192.18,142.50 L192.38,144.13 L192.57,145.86 L192.77,147.68 L192.97,149.59 L193.17,151.59 L193.37,153.66 L193.57,155.80 L193.76,158.01 L193.96,160.28 L194.16,162.60 L194.36,164.97 L194.56,167.38 L194.76,169.82 L194.95,172.29 L195.15,174.78 L195.35,177.29 L195.55,179.80 L195.75,182.31 L195.95,184.82 L196.15,187.31 L196.34,189.78 L196.54,192.22 L196.74,194.63 L196.94,197.00 L197.14,199.32 L197.34,201.59 L197.53,203.80 L197.73,205.94 L197.93,208.01 L198.13,210.01 L198.33,211.92 L198.53,213.74 L198.72,215.47 L198.92,217.10 L199.12,218.63 L199.32,220.06 L199.52,221.37 L199.72,222.57 L199.91,223.65 L200.11,224.61 L200.31,225.45 L200.51,226.16 L200.71,226.75 L200.91,227.21 L201.10,227.54 L201.30,227.73 L201.50,227.80 L201.70,227.73 L201.90,227.53 L202.10,227.19 L202.30,226.72 L202.50,226.12 L202.70,225.39 L202.90,224.52 L203.10,223.54 L203.30,222.43 L203.50,221.20 L203.70,219.85 L203.90,218.39 L204.10,216.82 L204.30,215.15 L204.50,213.38 L204.70,211.51 L204.90,209.56 L205.10,207.52 L205.30,205.40 L205.50,203.21 L205.70,200.96 L205.90,198.65 L206.10,196.28 L206.30,193.87 L206.50,191.42 L206.70,188.94 L206.90,186.43 L207.10,183.91 L207.30,181.37 L207.50,178.83 L207.70,176.29 L207.90,173.77 L208.10,171.26 L208.30,168.78 L208.50,166.33 L208.70,163.92 L208.90,161.55 L209.10,159.24 L209.30,156.99 L209.50,154.80 L209.70,152.68 L209.90,150.64 L210.10,148.69 L210.30,146.82 L210.50,145.05 L210.70,143.38 L210.90,141.81 L211.10,140.35 L211.30,139.00 L211.50,137.77 L211.70,136.66 L211.90,135.68 L212.10,134.81 L212.30,134.08 L212.50,133.48 L212.70,133.01 L212.90,132.67 L213.10,132.47 L213.30,132.40 L213.50,132.46 L213.70,132.66 L213.90,132.97 L214.10,133.42 L214.30,133.99 L214.50,134.68 L214.70,135.49 L214.90,136.42 L215.10,137.47 L215.30,138.62 L215.50,139.89 L215.70,141.26 L215.90,142.73 L216.10,144.29 L216.30,145.95 L216.50,147.69 L216.70,149.51 L216.90,151.40 L217.10,153.36 L217.30,155.38 L217.50,157.46 L217.70,159.59 L217.90,161.76 L218.10,163.97 L218.30,166.20 L218.50,168.45 L218.70,170.72 L218.90,173.00 L219.10,175.28 L219.30,177.55 L219.50,179.80 L219.70,182.03 L219.90,184.24 L220.10,186.41 L220.30,188.54 L220.50,190.62 L220.70,192.64 L220.90,194.60 L221.10,196.49 L221.30,198.31 L221.50,200.05 L221.70,201.71 L221.90,203.27 L222.10,204.74 L222.30,206.11 L222.50,207.38 L222.70,208.53 L222.90,209.58 L223.10,210.51 L223.30,211.32 L223.50,212.01 L223.70,212.58 L223.90,213.03 L224.10,213.34 L224.30,213.54 L224.50,213.60 L224.70,213.56 L224.90,213.42 L225.10,213.20 L225.30,212.89 L225.50,212.49 L225.70,212.01 L225.90,211.44 L226.10,210.79 L226.30,210.05 L226.50,209.24 L226.70,208.35 L226.90,207.38 L227.10,206.35 L227.30,205.24 L227.50,204.06 L227.70,202.82 L227.90,201.52 L228.10,200.17 L228.30,198.76 L228.50,197.30 L228.70,195.79 L228.90,194.24 L229.10,192.66 L229.30,191.04 L229.50,189.39 L229.70,187.72 L229.90,186.02 L230.10,184.31 L230.30,182.59 L230.50,180.87 L230.70,179.13 L230.90,177.41 L231.10,175.69 L231.30,173.98 L231.50,172.28 L231.70,170.61 L231.90,168.96 L232.10,167.34 L232.30,165.76 L232.50,164.21 L232.70,162.70 L232.90,161.24 L233.10,159.83 L233.30,158.48 L233.50,157.18 L233.70,155.94 L233.90,154.76 L234.10,153.65 L234.30,152.62 L234.50,151.65 L234.70,150.76 L234.90,149.95 L235.10,149.21 L235.30,148.56 L235.50,147.99 L235.70,147.51 L235.90,147.11 L236.10,146.80 L236.30,146.57 L236.50,146.45 L236.70,146.39 L236.90,146.46 L237.10,146.57 L237.30,146.82 L237.50,147.10 L237.70,147.54 L237.90,148.00 L238.10,148.63 L238.30,149.24 L238.50,150.04 L238.70,150.79 L238.90,151.77 L239.10,152.68 L239.30,153.82 L239.50,154.86 L239.70,156.13 L239.90,157.30 L240.10,158.73 L240.30,160.00 L240.50,161.50 L240.70,162.88 L240.90,164.50 L241.10,165.94 L241.30,167.67 L241.50,169.15 L241.70,170.93 L241.90,172.45 L242.10,174.31 L242.30,175.80 L242.50,177.69 L242.70,179.19 L242.90,181.05 L243.10,182.61 L243.30,184.47 L243.50,185.93 L243.70,187.74 L243.90,189.15 L244.10,190.93 L244.30,192.24 L244.50,193.98 L244.70,195.20 L244.90,196.88 L245.10,197.95 L245.30,199.53 L245.50,200.49 L245.70,201.97 L245.90,202.87 L246.10,204.16 L246.30,204.81 L246.50,205.98 L246.70,206.52 L246.90,207.62 L247.10,207.96 L247.30,208.85 L247.50,209.03 L247.70,209.83 L247.90,209.83 L248.10,210.47 L248.30,210.25 L248.50,210.67 L248.70,210.32 L248.90,210.45 L249.10,209.83 L249.30,209.88 L249.50,209.13 L249.70,209.06 L249.90,208.18 L250.10,207.90 L250.30,206.83 L250.50,206.43 L250.70,205.22 L250.90,204.68 L251.10,203.42 L251.30,202.79 L251.50,201.26 L251.70,200.67 L251.90,199.04 L252.10,198.23 L252.30,196.62 L252.50,195.75 L252.70,193.95 L252.90,193.12 L253.10,191.26 L253.30,190.42 L253.50,188.47 L253.70,187.51 L253.90,185.64 L254.10,184.86 L254.30,182.96 L254.50,181.90 L254.70,180.14 L254.90,179.24 L255.10,177.37 L255.30,176.54 L255.50,174.66 L255.70,174.00 L255.90,172.15 L256.10,171.59 L256.30,169.96 L256.50,169.44 L256.70,167.64 L256.90,167.29 L257.10,165.75 L257.30,165.52 L257.50,164.17 L257.70,163.94 L257.90,162.63 L258.10,162.64 L258.30,161.48 L258.50,161.62 L258.70,160.55 L258.90,160.92 L259.10,160.09 L259.30,160.52 L259.50,159.70 L259.70,160.44 L259.90,159.92 L260.10,160.59 L260.29,160.25 L260.49,161.17 L260.69,160.87 L260.89,161.84 L261.09,161.73 L261.29,162.72 L261.48,162.52 L261.68,163.93 L261.88,163.60 L262.08,165.01 L262.28,164.93 L262.48,166.31 L262.67,166.36 L262.87,167.88 L263.07,167.89 L263.27,169.44 L263.47,169.56 L263.67,171.13 L263.86,171.32 L264.06,173.05 L264.26,173.36 L264.46,174.91 L264.66,175.11 L264.86,176.89 L265.05,177.21 L265.25,178.82 L265.45,179.06 L265.65,180.93 L265.85,181.23 L266.05,182.98 L266.25,183.19 L266.44,184.78 L266.64,185.18 L266.84,186.80 L267.04,186.82 L267.24,188.81 L267.44,188.77 L267.63,190.35 L267.83,190.51 L268.03,192.12 L268.23,192.21 L268.43,193.71 L268.63,193.54 L268.82,195.24 L269.02,195.25 L269.22,196.62 L269.42,196.29 L269.62,197.92 L269.82,197.38 L270.01,198.93 L270.21,198.53 L270.41,199.70 L270.61,199.23 L270.81,200.33 L271.01,199.85 L271.20,200.86 L271.40,200.41 L271.60,201.48 L271.80,200.65 L272.00,201.36 L272.20,200.23 L272.40,201.21 L272.60,199.93 L272.80,200.44 L273.00,199.13 L273.20,199.82 L273.40,198.61 L273.60,198.95 L273.80,197.65 L274.00,198.02 L274.20,196.64 L274.40,196.96 L274.60,195.36 L274.80,195.77 L275.00,194.03 L275.20,194.36 L275.40,192.76 L275.60,193.18 L275.80,191.28 L276.00,191.55 L276.20,189.50 L276.40,189.88 L276.60,188.06 L276.80,187.93 L277.00,186.09 L277.20,186.22 L277.40,184.53 L277.60,184.83 L277.80,182.45 L278.00,183.03 L278.20,180.82 L278.40,181.06 L278.60,179.09 L278.80,179.25 L279.00,177.12 L279.20,177.74 L279.40,175.40 L279.60,175.84 L279.80,173.92 L280.00,174.40 L280.20,172.43 L280.40,172.82 L280.60,171.02 L280.80,171.26 L281.00,169.66 L281.20,170.07 L281.40,168.29 L281.60,168.76 L281.80,167.10 L282.00,167.49 L282.20,165.84 L282.40,166.83 L282.60,165.20 L282.80,166.09 L283.00,164.29 L283.20,165.45 L283.40,163.78 L283.60,164.53 L283.80,163.48 L284.00,164.44 L284.20,162.97 L284.40,164.19 L284.60,163.27 L284.79,164.70 L284.99,163.58 L285.19,165.02 L285.39,164.52 L285.59,165.87 L285.79,165.26 L285.98,166.95 L286.18,166.13 L286.38,167.75 L286.58,167.04 L286.78,168.92 L286.98,168.38 L287.17,169.92 L287.37,169.45 L287.57,171.14 L287.77,170.73 L287.97,172.74 L288.16,172.08 L288.36,174.18 L288.56,173.84 L288.76,175.66 L288.96,175.43 L289.16,177.53 L289.35,176.77 L289.55,178.87 L289.75,178.55 L289.95,180.39 L290.15,180.11 L290.35,182.30 L290.54,181.88 L290.74,183.76 L290.94,183.25 L291.14,185.31 L291.34,184.83 L291.54,186.70 L291.73,186.18 L291.93,188.09 L292.13,187.72 L292.33,189.52 L292.53,189.19 L292.72,191.04 L292.92,190.34 L293.12,192.00 L293.32,191.23 L293.52,192.93 L293.72,192.25 L293.91,193.95 L294.11,193.10 L294.31,194.63 L294.51,193.88 L294.71,195.51 L294.91,194.31 L295.10,195.90 L295.30,194.70 L295.50,196.03 L295.70,194.75 L295.90,196.01 L296.10,194.20 L296.30,195.65 L296.50,194.04 L296.70,194.82 L296.90,193.48 L297.10,194.47 L297.30,192.51 L297.50,193.56 L297.70,191.77 L297.90,192.45 L298.10,190.86 L298.30,191.49 L298.50,189.75 L298.70,190.67 L298.90,188.49 L299.10,189.27 L299.30,187.63 L299.50,188.27 L299.70,186.27 L299.90,186.73 L300.10,184.88 L300.30,185.39 L300.50,183.81 L300.70,184.01 L300.90,182.41 L301.10,182.90 L301.30,181.09 L301.50,181.35 L301.70,179.58 L301.90,180.44 L302.10,178.51 L302.30,178.80 L302.50,176.78 L302.70,177.75 L302.90,175.58 L303.10,176.69 L303.30,174.72 L303.50,175.47 L303.70,173.60 L303.90,174.51 L304.10,172.22 L304.30,173.14 L304.50,171.37 L304.70,172.21 L304.90,170.65 L305.10,171.65 L305.30,169.92 L305.50,171.13 L305.70,169.17 L305.90,170.44 L306.10,169.07 L306.30,170.21 L306.50,168.70 L306.70,169.83 L306.90,168.62 L307.10,170.11 L307.30,168.61 L307.49,170.09 L307.69,168.82 L307.89,170.39 L308.09,169.54 L308.29,170.89 L308.49,169.90 L308.69,171.33 L308.88,170.16 L309.08,172.00 L309.28,170.73 L309.48,172.52 L309.68,171.62 L309.88,173.48 L310.07,172.04 L310.27,174.01 L310.47,173.05 L310.67,175.03 L310.87,173.85 L311.07,175.57 L311.27,174.40 L311.46,176.44 L311.66,175.68 L311.86,177.54 L312.06,176.36 L312.26,178.12 L312.46,177.04 L312.66,178.84 L312.85,177.92 L313.05,179.79 L313.25,179.30 L313.45,181.17 L313.65,180.00 L313.85,181.67 L314.04,180.63 L314.24,182.66 L314.44,181.55 L314.64,183.62 L314.84,182.73 L315.04,184.55 L315.24,183.30 L315.43,185.61 L315.63,184.24 L315.83,186.09 L316.03,184.93 L316.23,187.16 L316.43,185.86 L316.63,187.78 L316.82,186.39 L317.02,188.45 L317.22,187.16 L317.42,188.92 L317.62,187.80 L317.82,189.43 L318.01,188.61 L318.21,189.96 L318.41,188.93 L318.61,190.48 L318.81,189.22 L319.01,190.91 L319.21,189.71 L319.40,191.21 L319.60,190.25 L319.80,191.72 L320.00,190.43 L320.20,191.53 L320.40,189.84 L320.60,191.19 L320.80,189.41 L321.00,190.39 L321.20,188.50 L321.40,189.88 L321.60,188.08 L321.80,189.12 L322.00,187.03 L322.20,187.98 L322.40,186.28 L322.60,186.84 L322.80,185.19 L323.00,185.98 L323.20,183.68 L323.40,184.65 L323.60,182.85 L323.80,183.27 L324.00,181.10 L324.20,182.42 L324.40,180.14 L324.60,180.72 L324.80,178.83 L325.00,179.62 L325.20,177.81 L325.40,178.54 L325.60,176.23 L325.80,177.26 L326.00,174.96 L326.20,176.25 L326.40,174.19 L326.60,174.76 L326.80,173.07 L327.00,174.24 L327.20,171.91 L327.40,173.00 L327.60,171.10 L327.80,172.40 L328.00,170.64 L328.20,171.83 L328.40,170.03 L328.60,171.08 L328.80,169.60 L329.00,170.79 L329.20,169.44 L329.40,171.21 L329.60,170.12 L329.80,171.56 L330.00,170.65 L330.20,172.10 L330.40,171.27 L330.60,172.94 L330.80,171.53 L331.00,173.92 L331.20,172.62 L331.40,174.51 L331.60,173.83 L331.80,175.64 L332.00,174.63 L332.20,176.52 L332.40,175.50 L332.60,177.47 L332.80,176.62 L333.00,178.73 L333.20,177.84 L333.40,180.07 L333.60,178.75 L333.80,180.79 L334.00,179.75 L334.20,181.80 L334.40,181.23 L334.60,182.95 L334.80,182.22 L335.00,183.98 L335.20,183.25 L335.40,185.09 L335.60,184.05 L335.80,185.90 L336.00,185.13 L336.20,186.85 L336.40,185.55 L336.60,187.63 L336.80,186.55 L337.00,187.89 L337.20,186.71 L337.40,188.38 L337.60,187.50 L337.80,188.96 L338.00,187.41 L338.20,188.93 L338.40,187.41 L338.60,188.44 L338.80,187.03 L339.00,188.24 L339.20,186.91 L339.40,188.07 L339.60,186.58 L339.80,187.58 L340.00,185.67 L340.20,187.11 L340.40,185.43 L340.60,186.87 L340.80,184.82 L341.00,186.41 L341.20,184.80 L341.40,186.28 L341.60,184.00 L341.80,185.26 L342.00,183.62 L342.20,184.86 L342.40,182.89 L342.60,184.25 L342.80,182.52 L343.00,184.21 L343.20,181.84 L343.40,183.66 L343.60,181.47 L343.80,182.79 L344.00,181.33 L344.20,182.22 L344.40,180.35 L344.60,182.07 L344.80,180.36 L345.00,181.78 L345.20,179.68 L345.40,180.88 L345.60,179.30 L345.80,180.63 L346.00,179.10 L346.20,180.43 L346.40,178.58 L346.60,179.91 L346.80,178.13 L347.00,179.81 L347.20,178.17 L347.40,179.36 L347.60,177.88 L347.80,179.19 L348.00,177.64 L348.20,179.62 L348.40,177.95 L348.60,179.89 L348.80,178.66 L349.00,180.49 L349.20,178.89 L349.40,180.74 L349.60,179.66 L349.80,181.15 L350.00,179.73 L350.20,181.90 L350.40,180.26 L350.60,181.84 L350.80,180.04 L351.00,181.65 L351.20,179.67 L351.40,181.67 L351.60,179.91 L351.80,181.16 L352.00,179.14 L352.20,180.77 L352.40,179.22 L352.60,180.28 L352.80,178.66 L353.00,179.98 L353.20,178.45 L353.40,179.72 L353.60,177.92 L353.80,179.67 L354.00,177.31 L354.20,178.89 L354.40,177.36 L354.60,178.76 L354.80,176.73 L355.00,178.13 L355.20,176.23 L355.40,178.11 L355.60,176.35 L355.80,177.61 L356.00,176.13 L356.20,177.36 L356.40,175.59 L356.60,176.92 L356.80,175.68 L357.00,176.74 L357.20,175.27 L357.40,176.53 L357.60,175.50 L357.80,176.83 L357.99,175.60 L358.19,177.32 L358.39,175.95 L358.59,177.74 L358.78,175.99 L358.98,177.90 L359.18,176.39 L359.38,178.42 L359.58,177.12 L359.77,178.96 L359.97,177.61 L360.17,179.81 L360.37,178.12 L360.56,180.27 L360.76,178.87 L360.96,180.62 L361.16,179.36 L361.36,181.77 L361.55,180.13 L361.75,182.18 L361.95,181.08 L362.15,182.66 L362.34,181.61 L362.54,183.26 L362.74,181.88 L362.94,184.34 L363.14,182.88 L363.33,184.48 L363.53,183.46 L363.73,185.08 L363.93,183.94 L364.12,185.62 L364.32,184.75 L364.52,186.38 L364.72,185.01 L364.92,186.86 L365.11,185.34 L365.31,187.20 L365.51,185.81 L365.71,187.49 L365.90,185.99 L366.10,187.75 L366.30,186.50 L366.50,187.98 L366.70,186.14 L366.90,187.17 L367.10,185.80 L367.30,187.20 L367.50,185.02 L367.70,186.87 L367.90,184.93 L368.10,186.37 L368.30,184.58 L368.50,185.38 L368.70,183.93 L368.90,185.21 L369.10,182.99 L369.30,184.18 L369.50,182.36 L369.70,183.92 L369.90,182.03 L370.10,183.21 L370.30,181.25 L370.50,182.22 L370.70,180.56 L370.90,181.86 L371.10,179.74 L371.30,181.33 L371.50,179.22 L371.70,180.74 L371.90,178.81 L372.10,180.60 L372.30,178.81 L372.50,179.90 L372.70,178.21 L372.90,179.79 L373.10,178.20 L373.30,179.45 L373.50,177.97 L373.71,179.46 L373.91,177.80 L374.11,179.66 L374.31,178.20 L374.52,179.53 L374.72,177.98 L374.92,179.87 L375.12,178.06 L375.33,180.14 L375.53,178.70 L375.73,180.03 L375.93,178.84 L376.14,180.60 L376.34,178.98 L376.54,180.70 L376.74,179.12 L376.95,180.69 L377.15,179.50 L377.35,180.99 L377.56,179.37 L377.76,181.04 L377.96,179.58 L378.16,181.34 L378.37,180.04 L378.57,181.62 L378.77,180.39 L378.97,182.12 L379.18,180.34 L379.38,182.29 L379.58,180.81 L379.78,182.11 L379.99,180.60 L380.19,182.19 L380.39,180.63 L380.59,182.78 L380.80,180.96 L381.00,182.72 L381.20,181.12 L381.40,182.72 L381.60,181.35 L381.80,182.52 L382.00,181.16 L382.20,182.75 L382.40,180.91 L382.60,183.14 L382.80,181.52 L383.00,182.80 L383.20,181.64 L383.40,182.94 L383.60,181.22 L383.80,183.19 L384.00,181.88 L384.20,183.26 L384.40,181.45 L384.60,183.64 L384.80,181.57 L385.00,183.62 L385.20,182.06 L385.40,183.80 L385.60,182.12 L385.80,183.86 L386.00,182.35 L386.20,183.44 L386.40,181.96 L386.60,183.52 L386.80,182.22 L387.00,183.70 L387.20,182.39 L387.39,183.82 L387.59,182.39 L387.79,184.26 L387.99,182.47 L388.18,184.48 L388.38,182.54 L388.58,184.24 L388.78,183.02 L388.97,184.72 L389.17,183.38 L389.37,185.01 L389.57,183.23 L389.76,185.10 L389.96,183.65 L390.16,185.87 L390.36,184.28 L390.55,186.10 L390.75,184.65 L390.95,186.46 L391.14,184.89 L391.34,186.39 L391.54,184.84 L391.74,186.71 L391.93,185.55 L392.13,187.01 L392.33,185.56 L392.53,187.11 L392.72,186.14 L392.92,187.41 L393.12,186.15 L393.32,187.59 L393.51,186.11 L393.71,188.02 L393.91,186.46 L394.11,188.01 L394.30,186.53 L394.50,188.01 L394.70,186.84 L394.90,188.30 L395.10,186.47 L395.30,187.70 L395.50,185.90 L395.70,187.10 L395.90,185.41 L396.10,186.65 L396.30,184.84 L396.50,186.09 L396.70,184.38 L396.90,185.61 L397.10,183.98 L397.30,184.71 L397.50,183.25 L397.70,184.21 L397.90,182.25 L398.10,183.79 L398.30,181.63 L398.50,182.57 L398.70,180.51 L398.90,182.04 L399.10,179.78 L399.30,181.21 L399.50,179.61 L399.70,180.58 L399.90,178.40 L400.10,179.70 L400.30,178.08 L400.50,179.58 L400.70,177.68 L400.90,179.02 L401.10,177.27 L401.30,178.27 L401.50,176.79 L401.70,178.29 L401.90,176.19 L402.10,177.58 L402.30,175.75 L402.50,177.72 L402.70,176.28 L402.90,178.03 L403.10,176.33 L403.30,178.46 L403.50,177.00 L403.70,178.73 L403.90,177.00 L404.10,178.67 L404.30,177.55 L404.50,179.04 L404.70,177.72 L404.90,179.53 L405.10,178.59 L405.30,180.40 L405.50,178.78 L405.70,180.63 L405.90,179.69 L406.10,181.07 L406.30,180.29 L406.50,182.15 L406.70,180.80 L406.90,182.43 L407.10,181.02 L407.30,183.35 L407.50,181.52 L407.70,183.87 L407.90,182.10 L408.10,184.07 L408.30,182.74 L408.50,184.80 L408.70,183.38 L408.90,185.22 L409.10,183.51 L409.30,185.50 L409.50,183.96 L409.70,186.30 L409.90,184.54 L410.10,186.61 L410.30,184.78 L410.50,186.79 L410.70,185.43 L410.90,187.06 L411.10,185.61 L411.30,187.25 L411.50,185.72 L411.71,187.22 L411.91,185.52 L412.11,187.07 L412.31,184.94 L412.52,186.44 L412.72,185.22 L412.92,186.76 L413.12,184.47 L413.33,185.99 L413.53,184.43 L413.73,185.90 L413.93,184.51 L414.14,185.91 L414.34,183.86 L414.54,185.14 L414.74,183.69 L414.95,185.04 L415.15,183.06 L415.35,185.09 L415.56,183.21 L415.76,184.65 L415.96,182.65 L416.16,184.16 L416.37,182.41 L416.57,183.86 L416.77,182.47 L416.97,183.81 L417.18,181.76 L417.38,183.69 L417.58,181.71 L417.78,182.95 L417.99,181.27 L418.19,182.89 L418.39,181.60 L418.59,182.69 L418.80,181.19 L419.00,182.73 L419.20,181.03 L419.40,182.45 L419.61,181.33 L419.81,182.85 L420.01,181.14 L420.21,182.31 L420.42,181.01 L420.62,182.45 L420.82,180.31 L421.02,182.05 L421.23,180.50 L421.43,181.94 L421.63,180.30 L421.83,181.48 L422.04,179.88 L422.24,181.53 L422.44,179.20 L422.64,181.14 L422.85,179.23 L423.05,180.65 L423.25,178.87 L423.45,180.39 L423.65,178.80 L423.86,179.87 L424.06,178.19 L424.26,179.98 L424.46,177.76 L424.67,179.65 L424.87,177.73 L425.07,178.98 L425.27,177.77 L425.48,178.78 L425.68,177.16 L425.88,178.64 L426.08,177.13 L426.29,178.38 L426.49,177.07 L426.69,178.35 L426.89,176.69 L427.10,178.59 L427.30,176.87 L427.50,178.07 L427.70,176.39 L427.90,178.63 L428.10,176.65 L428.30,178.68 L428.50,177.38 L428.70,178.80 L428.90,177.38 L429.10,179.62 L429.30,177.90 L429.50,179.90 L429.70,178.19 L429.90,180.11 L430.10,178.87 L430.30,180.81 L430.50,179.19 L430.70,181.21 L430.90,180.23 L431.10,181.66 L431.30,180.73 L431.50,182.23 L431.70,181.31 L431.90,183.14 L432.10,181.84 L432.30,183.79 L432.50,182.39 L432.70,184.46 L432.90,183.03 L433.10,185.06 L433.30,183.60 L433.50,185.59 L433.70,183.96 L433.90,186.20 L434.10,184.85 L434.30,186.62 L434.50,185.41 L434.70,186.87 L434.90,185.50 L435.10,187.05 L435.30,186.20 L435.50,187.52 L435.70,186.33 L435.90,188.09 L436.10,186.69 L436.30,188.14 L436.50,186.46 L436.70,188.10 L436.90,186.36 L437.09,188.05 L437.29,186.55 L437.49,188.02 L437.69,186.23 L437.89,187.33 L438.08,185.39 L438.28,186.92 L438.48,185.01 L438.68,186.77 L438.88,185.05 L439.07,186.02 L439.27,184.11 L439.47,185.73 L439.67,183.78 L439.87,185.03 L440.06,183.39 L440.26,184.48 L440.46,182.86 L440.66,183.88 L440.86,182.58 L441.05,183.86 L441.25,181.50 L441.45,183.21 L441.65,181.14 L441.85,182.27 L442.05,180.44 L442.24,181.73 L442.44,180.29 L442.64,181.23 L442.84,179.42 L443.04,180.85 L443.23,178.74 L443.43,180.22 L443.63,178.65 L443.83,179.52 L444.03,178.15 L444.22,179.60 L444.42,177.81 L444.62,179.00 L444.82,177.17 L445.02,178.35 L445.21,176.67 L445.41,178.26 L445.61,176.72 L445.81,178.02 L446.01,176.46 L446.20,177.52 L446.40,175.95 L446.60,177.63 L446.80,175.93 L447.00,177.90 L447.21,176.05 L447.41,178.16 L447.61,176.54 L447.81,178.42 L448.01,176.86 L448.22,178.24 L448.42,177.18 L448.62,178.53 L448.82,177.28 L449.02,178.84 L449.23,177.56 L449.43,179.61 L449.63,178.29 L449.83,180.22 L450.03,178.41 L450.24,180.53 L450.44,179.35 L450.64,181.21 L450.84,179.51 L451.04,181.66 L451.25,180.28 L451.45,181.64 L451.65,180.70 L451.85,182.60 L452.06,180.88 L452.26,183.16 L452.46,181.66 L452.66,183.60 L452.86,182.26 L453.07,183.91 L453.27,182.79 L453.47,184.46 L453.67,183.04 L453.87,184.52 L454.08,183.26 L454.28,185.10 L454.48,183.85 L454.68,185.42 L454.88,183.91 L455.09,185.77 L455.29,184.14 L455.49,185.89 L455.69,184.70 L455.89,186.56 L456.10,184.78 L456.30,186.66 L456.50,184.80 L456.70,186.62 L456.91,185.25 L457.11,186.53 L457.32,185.20 L457.52,186.46 L457.73,185.03 L457.93,186.54 L458.13,184.92 L458.34,186.74 L458.54,185.01 L458.75,187.03 L458.95,185.16 L459.15,187.07 L459.36,185.13 L459.56,186.98 L459.77,185.47 L459.97,186.93 L460.17,185.53 L460.38,187.02 L460.58,185.51 L460.79,186.96 L460.99,185.72 L461.20,187.04 L461.40,185.72 L461.60,186.95 L461.80,185.60 L462.00,186.81 L462.20,185.17 L462.40,186.43 L462.60,185.13 L462.80,186.42 L463.00,184.88 L463.20,186.24 L463.40,184.28 L463.60,186.09 L463.80,184.34 L464.00,185.41 L464.20,183.80 L464.40,185.17 L464.60,183.75 L464.80,184.72 L465.00,182.82 L465.20,184.78 L465.40,182.79 L465.60,183.82 L465.80,182.12 L466.00,183.55 L466.20,182.15 L466.40,183.11 L466.60,181.67 L466.80,183.09 L467.00,181.22 L467.20,182.57 L467.40,180.83 L467.60,181.75 L467.80,180.28 L468.00,181.66 L468.20,179.78 L468.40,181.41 L468.60,179.45 L468.80,180.89 L469.00,179.31 L469.20,180.62 L469.40,178.58 L469.60,180.32 L469.80,178.62 L470.00,179.81 L470.20,178.00 L470.40,179.26 L470.60,177.62 L470.80,179.51 L471.00,177.60 L471.20,179.01 L471.40,177.28 L471.60,179.17 L471.80,177.27 L472.00,179.03 L472.20,177.50 L472.40,178.88 L472.60,177.38 L472.80,179.15 L473.00,177.77 L473.20,179.63 L473.40,178.05 L473.60,179.84 L473.80,178.70 L474.00,180.24 L474.20,179.08 L474.40,180.92 L474.60,179.20 L474.80,181.05 L475.00,179.83 L475.20,181.83 L475.40,180.45 L475.60,182.03 L475.80,180.82 L476.00,182.58 L476.20,181.41 L476.40,183.15 L476.60,182.04 L476.80,183.84 L477.00,182.72 L477.20,184.83 L477.40,182.95 L477.60,185.14 L477.80,183.65 L478.00,185.81 L478.20,184.15 L478.40,185.90 L478.60,184.79 L478.80,186.79 L479.00,185.06 L479.20,186.85 L479.40,185.39 L479.60,187.46 L479.80,186.10 L480.00,187.45 L480.20,186.12 L480.40,187.95 L480.60,186.23 L480.80,188.07 L481.00,186.96 L481.20,188.07 L481.40,186.61 L481.59,187.78 L481.79,186.43 L481.99,187.69 L482.19,185.84 L482.39,187.40 L482.58,185.66 L482.78,187.11 L482.98,185.52 L483.18,187.09 L483.38,185.21 L483.57,186.91 L483.77,184.90 L483.97,186.36 L484.17,184.25 L484.37,185.70 L484.57,184.03 L484.76,185.73 L484.96,183.46 L485.16,185.12 L485.36,183.24 L485.56,184.75 L485.75,182.51 L485.95,184.04 L486.15,182.21 L486.35,183.72 L486.55,181.62 L486.74,183.12 L486.94,181.43 L487.14,182.48 L487.34,180.75 L487.54,182.41 L487.73,180.64 L487.93,182.05 L488.13,180.24 L488.33,181.63 L488.53,179.87 L488.73,181.14 L488.92,179.26 L489.12,180.48 L489.32,178.81 L489.52,180.54 L489.72,178.40 L489.91,180.09 L490.11,178.36 L490.31,179.94 L490.51,177.90 L490.71,179.57 L490.90,177.84 L491.10,179.52 L491.30,178.00 L491.50,179.54 L491.70,177.66 L491.90,179.49 L492.10,177.69 L492.30,179.65 L492.50,177.85 L492.70,179.90 L492.90,178.27 L493.10,179.77 L493.30,178.44 L493.50,179.96 L493.70,178.82 L493.90,179.95 L494.10,178.80 L494.30,180.24 L494.50,178.72 L494.70,180.91 L494.90,179.27 L495.10,180.97 L495.30,179.43 L495.50,181.27 L495.70,179.60 L495.90,181.53 L496.10,179.67 L496.30,181.23 L496.50,180.20 L496.70,181.61 L496.90,180.12 L497.10,181.86 L497.30,180.12 L497.50,181.72 L497.70,180.74 L497.90,182.07 L498.10,180.44 L498.30,182.02 L498.50,180.76 L498.70,182.13 L498.90,180.86 L499.10,182.51 L499.30,181.19 L499.50,182.65 L499.70,180.99 L499.89,182.69 L500.09,181.03 L500.29,182.63 L500.49,181.50 L500.68,183.09 L500.88,181.73 L501.08,183.12 L501.28,182.13 L501.47,183.80 L501.67,182.34 L501.87,184.05 L502.07,182.31 L502.26,184.16 L502.46,183.06 L502.66,184.69 L502.86,183.05 L503.05,184.92 L503.25,183.40 L503.45,185.67 L503.64,183.88 L503.84,185.99 L504.04,184.58 L504.24,186.03 L504.43,184.46 L504.63,186.58 L504.83,185.25 L505.03,186.60 L505.22,185.41 L505.42,187.12 L505.62,185.43 L505.82,187.28 L506.01,186.09 L506.21,187.73 L506.41,185.74 L506.61,187.59 L506.80,185.96 L507.00,187.81 L507.20,186.14 L507.40,187.89 L507.59,186.22 L507.79,187.35 L507.99,185.84 L508.19,187.11 L508.39,185.41 L508.58,186.63 L508.78,185.00 L508.98,186.40 L509.18,184.41 L509.38,186.33 L509.57,184.33 L509.77,185.79 L509.97,183.74 L510.17,185.10 L510.37,183.48 L510.56,184.94 L510.76,183.03 L510.96,184.35 L511.16,182.17 L511.36,183.48 L511.55,181.88 L511.75,183.10 L511.95,181.27 L512.15,182.66 L512.34,180.83 L512.54,182.13 L512.74,180.26 L512.94,181.83 L513.14,179.60 L513.33,181.08 L513.53,179.19 L513.73,180.35 L513.93,178.90 L514.13,180.27 L514.32,178.04 L514.52,179.61 L514.72,177.64 L514.92,179.26 L515.12,177.61 L515.31,179.30 L515.51,177.07 L515.71,178.74 L515.91,176.71 L516.11,178.77 L516.30,176.98 L516.50,178.45 L516.70,176.74 L516.90,178.13 L517.11,176.76 L517.31,178.37 L517.51,177.09 L517.71,178.72 L517.92,177.35 L518.12,179.05 L518.32,177.44 L518.53,179.15 L518.73,177.55 L518.93,179.51 L519.14,178.04 L519.34,179.32 L519.54,178.36 L519.74,180.03 L519.95,178.30 L520.15,180.04 L520.35,178.77 L520.56,180.30 L520.76,178.94 L520.96,180.64 L521.16,179.64 L521.37,181.28 L521.57,179.76 L521.77,181.33 L521.98,179.74 L522.18,181.76 L522.38,180.44 L522.59,181.89 L522.79,180.31 L522.99,182.09 L523.19,180.83 L523.40,182.05 L523.60,181.50" stroke="#D95319" stroke-width="1.6"/>
<path d="M88.60,179.10 L105.00,180.40 L130.00,181.20 L160.50,181.80 L161.00,181.80 L161.30,179.72 L161.60,177.66 L161.90,175.61 L162.20,173.61 L162.50,171.64 L162.80,169.74 L163.10,167.90 L163.40,166.14 L163.70,164.47 L164.00,162.89 L164.30,161.42 L164.60,160.07 L164.90,158.83 L165.20,157.72 L165.50,156.75 L165.80,155.92 L166.10,155.24 L166.40,154.70 L166.70,154.31 L167.00,154.08 L167.30,154.00 L167.60,154.09 L167.91,154.38 L168.21,154.85 L168.51,155.50 L168.81,156.32 L169.12,157.32 L169.42,158.49 L169.72,159.80 L170.03,161.26 L170.33,162.86 L170.63,164.58 L170.93,166.40 L171.24,168.32 L171.54,170.32 L171.84,172.38 L172.14,174.49 L172.45,176.64 L172.75,178.80 L173.05,180.96 L173.36,183.11 L173.66,185.22 L173.96,187.28 L174.26,189.28 L174.57,191.20 L174.87,193.02 L175.17,194.74 L175.47,196.34 L175.78,197.80 L176.08,199.11 L176.38,200.28 L176.69,201.28 L176.99,202.10 L177.29,202.75 L177.59,203.22 L177.90,203.51 L178.20,203.60 L178.50,203.54 L178.80,203.37 L179.09,203.09 L179.39,202.70 L179.69,202.20 L179.99,201.60 L180.28,200.89 L180.58,200.09 L180.88,199.19 L181.18,198.20 L181.47,197.13 L181.77,195.98 L182.07,194.76 L182.37,193.47 L182.67,192.12 L182.96,190.72 L183.26,189.28 L183.56,187.80 L183.86,186.29 L184.15,184.76 L184.45,183.22 L184.75,181.68 L185.05,180.14 L185.34,178.61 L185.64,177.10 L185.94,175.62 L186.24,174.18 L186.53,172.78 L186.83,171.43 L187.13,170.14 L187.43,168.92 L187.73,167.77 L188.02,166.70 L188.32,165.71 L188.62,164.81 L188.92,164.01 L189.21,163.30 L189.51,162.70 L189.81,162.20 L190.11,161.81 L190.40,161.53 L190.70,161.36 L191.00,161.30 L191.30,161.36 L191.60,161.53 L191.90,161.81 L192.20,162.20 L192.50,162.70 L192.80,163.31 L193.10,164.02 L193.40,164.82 L193.70,165.71 L194.00,166.69 L194.30,167.75 L194.60,168.88 L194.90,170.08 L195.20,171.33 L195.50,172.63 L195.80,173.97 L196.10,175.34 L196.40,176.73 L196.70,178.14 L197.00,179.56 L197.30,180.97 L197.60,182.36 L197.90,183.73 L198.20,185.07 L198.50,186.37 L198.80,187.62 L199.10,188.82 L199.40,189.95 L199.70,191.01 L200.00,191.99 L200.30,192.88 L200.60,193.68 L200.90,194.39 L201.20,195.00 L201.50,195.50 L201.80,195.89 L202.10,196.17 L202.40,196.34 L202.70,196.40 L203.00,196.36 L203.30,196.23 L203.59,196.01 L203.89,195.72 L204.19,195.34 L204.49,194.88 L204.78,194.34 L205.08,193.73 L205.38,193.04 L205.68,192.29 L205.97,191.47 L206.27,190.60 L206.57,189.67 L206.87,188.69 L207.17,187.66 L207.46,186.60 L207.76,185.50 L208.06,184.37 L208.36,183.22 L208.65,182.06 L208.95,180.89 L209.25,179.71 L209.55,178.54 L209.84,177.38 L210.14,176.23 L210.44,175.10 L210.74,174.00 L211.03,172.94 L211.33,171.91 L211.63,170.93 L211.93,170.00 L212.23,169.13 L212.52,168.31 L212.82,167.56 L213.12,166.87 L213.42,166.26 L213.71,165.72 L214.01,165.26 L214.31,164.88 L214.61,164.59 L214.90,164.37 L215.20,164.24 L215.50,164.20 L215.80,164.24 L216.10,164.36 L216.41,164.57 L216.71,164.85 L217.01,165.22 L217.31,165.66 L217.62,166.17 L217.92,166.75 L218.22,167.41 L218.52,168.12 L218.83,168.90 L219.13,169.73 L219.43,170.62 L219.73,171.55 L220.04,172.52 L220.34,173.53 L220.64,174.57 L220.94,175.63 L221.25,176.71 L221.55,177.80 L221.85,178.90 L222.15,180.00 L222.45,181.09 L222.76,182.17 L223.06,183.23 L223.36,184.27 L223.66,185.28 L223.97,186.25 L224.27,187.18 L224.57,188.07 L224.87,188.90 L225.18,189.68 L225.48,190.39 L225.78,191.05 L226.08,191.63 L226.39,192.14 L226.69,192.58 L226.99,192.95 L227.29,193.23 L227.60,193.44 L227.90,193.56 L228.20,193.60 L228.50,193.56 L228.81,193.43 L229.11,193.23 L229.41,192.94 L229.71,192.57 L230.02,192.12 L230.32,191.60 L230.62,191.01 L230.92,190.36 L231.23,189.64 L231.53,188.86 L231.83,188.03 L232.13,187.15 L232.44,186.23 L232.74,185.27 L233.04,184.29 L233.34,183.28 L233.65,182.25 L233.95,181.22 L234.25,180.18 L234.55,179.15 L234.86,178.12 L235.16,177.11 L235.46,176.13 L235.76,175.17 L236.07,174.25 L236.37,173.37 L236.67,172.54 L236.97,171.76 L237.28,171.04 L237.58,170.39 L237.88,169.80 L238.18,169.28 L238.49,168.83 L238.79,168.46 L239.09,168.17 L239.39,167.97 L239.70,167.84 L240.00,167.80 L240.30,167.84 L240.61,167.95 L240.91,168.14 L241.21,168.40 L241.51,168.74 L241.82,169.14 L242.12,169.61 L242.42,170.15 L242.72,170.74 L243.03,171.39 L243.33,172.09 L243.63,172.84 L243.93,173.63 L244.24,174.45 L244.54,175.31 L244.84,176.19 L245.14,177.09 L245.45,178.01 L245.75,178.94 L246.05,179.86 L246.35,180.79 L246.66,181.70 L246.96,182.60 L247.26,183.48 L247.56,184.33 L247.87,185.15 L248.17,185.93 L248.47,186.67 L248.77,187.37 L249.08,188.01 L249.38,188.60 L249.68,189.13 L249.98,189.60 L250.29,190.00 L250.59,190.34 L250.89,190.61 L251.19,190.81 L251.50,190.94 L251.80,191.00 L252.10,190.95 L252.41,190.84 L252.71,190.68 L253.01,190.45 L253.31,190.17 L253.62,189.84 L253.92,189.46 L254.22,189.02 L254.52,188.54 L254.83,188.02 L255.13,187.45 L255.43,186.85 L255.73,186.22 L256.04,185.56 L256.34,184.87 L256.64,184.16 L256.94,183.44 L257.25,182.71 L257.55,181.97 L257.85,181.23 L258.15,180.49 L258.46,179.76 L258.76,179.04 L259.06,178.34 L259.36,177.66 L259.67,177.00 L259.97,176.37 L260.27,175.78 L260.57,175.22 L260.88,174.70 L261.18,174.22 L261.48,173.79 L261.78,173.41 L262.09,173.07 L262.39,172.79 L262.69,172.56 L262.99,172.39 L263.30,172.27 L263.60,172.20 L263.90,172.25 L264.20,172.34 L264.49,172.47 L264.79,172.63 L265.09,172.84 L265.39,173.08 L265.68,173.36 L265.98,173.67 L266.28,174.02 L266.58,174.39 L266.87,174.79 L267.17,175.23 L267.47,175.68 L267.77,176.16 L268.07,176.66 L268.36,177.17 L268.66,177.70 L268.96,178.25 L269.26,178.80 L269.55,179.36 L269.85,179.92 L270.15,180.48 L270.45,181.04 L270.74,181.60 L271.04,182.15 L271.34,182.69 L271.64,183.21 L271.93,183.73 L272.23,184.22 L272.53,184.69 L272.83,185.14 L273.13,185.57 L273.42,185.97 L273.72,186.34 L274.02,186.69 L274.32,187.00 L274.61,187.27 L274.91,187.52 L275.21,187.73 L275.51,187.90 L275.80,188.04 L276.10,188.14 L276.40,188.20 L276.70,188.14 L277.01,188.03 L277.31,187.88 L277.61,187.69 L277.91,187.46 L278.22,187.20 L278.52,186.89 L278.82,186.56 L279.12,186.19 L279.43,185.79 L279.73,185.36 L280.03,184.91 L280.34,184.44 L280.64,183.94 L280.94,183.44 L281.24,182.92 L281.55,182.40 L281.85,181.87 L282.15,181.33 L282.45,180.80 L282.76,180.28 L283.06,179.77 L283.36,179.26 L283.66,178.78 L283.97,178.31 L284.27,177.86 L284.57,177.44 L284.88,177.04 L285.18,176.67 L285.48,176.34 L285.78,176.04 L286.09,175.77 L286.39,175.54 L286.69,175.35 L286.99,175.19 L287.30,175.08 L287.60,175.00 L287.90,175.05 L288.20,175.13 L288.51,175.24 L288.81,175.37 L289.11,175.53 L289.41,175.71 L289.72,175.91 L290.02,176.14 L290.32,176.39 L290.62,176.65 L290.93,176.94 L291.23,177.24 L291.53,177.56 L291.83,177.89 L292.14,178.23 L292.44,178.58 L292.74,178.95 L293.04,179.31 L293.35,179.69 L293.65,180.06 L293.95,180.44 L294.25,180.81 L294.56,181.18 L294.86,181.55 L295.16,181.91 L295.46,182.26 L295.77,182.60 L296.07,182.93 L296.37,183.24 L296.67,183.54 L296.98,183.83 L297.28,184.09 L297.58,184.33 L297.88,184.56 L298.19,184.76 L298.49,184.94 L298.79,185.10 L299.09,185.24 L299.40,185.35 L299.70,185.44 L300.00,185.50 L300.30,185.45 L300.60,185.38 L300.91,185.29 L301.21,185.19 L301.51,185.05 L301.81,184.92 L302.12,184.75 L302.42,184.59 L302.72,184.38 L303.02,184.19 L303.33,183.94 L303.63,183.74 L303.93,183.46 L304.23,183.24 L304.54,182.94 L304.84,182.70 L305.14,182.39 L305.44,182.14 L305.75,181.82 L306.05,181.56 L306.35,181.23 L306.65,180.99 L306.95,180.65 L307.26,180.40 L307.56,180.08 L307.86,179.84 L308.16,179.52 L308.47,179.33 L308.77,178.99 L309.07,178.82 L309.37,178.53 L309.68,178.39 L309.98,178.10 L310.28,177.98 L310.58,177.73 L310.89,177.64 L311.19,177.41 L311.49,177.37 L311.79,177.18 L312.10,177.19 L312.40,177.01 L312.70,177.04 L313.00,177.01 L313.31,177.23 L313.61,177.23 L313.91,177.46 L314.21,177.53 L314.52,177.81 L314.82,177.93 L315.12,178.29 L315.43,178.42 L315.73,178.79 L316.03,178.94 L316.33,179.35 L316.64,179.56 L316.94,179.97 L317.24,180.20 L317.54,180.63 L317.85,180.86 L318.15,181.33 L318.45,181.51 L318.76,182.00 L319.06,182.17 L319.36,182.65 L319.66,182.83 L319.97,183.26 L320.27,183.43 L320.57,183.83 L320.88,183.92 L321.18,184.34 L321.48,184.43 L321.78,184.77 L322.09,184.81 L322.39,185.16 L322.69,185.09 L322.99,185.42 L323.30,185.31 L323.60,185.60 L323.90,185.37 L324.20,185.45 L324.49,185.18 L324.79,185.29 L325.09,184.97 L325.39,185.03 L325.68,184.73 L325.98,184.78 L326.28,184.41 L326.58,184.44 L326.88,184.05 L327.17,184.06 L327.47,183.62 L327.77,183.62 L328.07,183.21 L328.36,183.15 L328.66,182.73 L328.96,182.69 L329.26,182.21 L329.56,182.18 L329.85,181.70 L330.15,181.72 L330.45,181.25 L330.75,181.19 L331.04,180.70 L331.34,180.70 L331.64,180.24 L331.94,180.24 L332.24,179.76 L332.53,179.78 L332.83,179.29 L333.13,179.28 L333.43,178.84 L333.72,178.87 L334.02,178.45 L334.32,178.56 L334.62,178.10 L334.92,178.27 L335.21,177.85 L335.51,177.93 L335.81,177.62 L336.11,177.71 L336.40,177.39 L336.70,177.55 L337.00,177.30 L337.30,177.57 L337.60,177.41 L337.90,177.78 L338.20,177.60 L338.50,177.99 L338.80,177.88 L339.10,178.25 L339.40,178.18 L339.70,178.63 L340.00,178.55 L340.30,179.00 L340.60,178.87 L340.90,179.40 L341.20,179.37 L341.50,179.82 L341.80,179.81 L342.10,180.30 L342.40,180.29 L342.70,180.87 L343.00,180.71 L343.30,181.35 L343.60,181.20 L343.90,181.77 L344.20,181.65 L344.50,182.26 L344.80,182.20 L345.10,182.74 L345.40,182.63 L345.70,183.17 L346.00,182.96 L346.30,183.48 L346.60,183.35 L346.90,183.87 L347.20,183.63 L347.50,184.13 L347.80,183.93 L348.10,184.33 L348.40,184.06 L348.70,184.51 L349.00,184.19 L349.30,184.53 L349.59,184.08 L349.89,184.25 L350.19,183.79 L350.49,184.01 L350.78,183.49 L351.08,183.63 L351.38,183.17 L351.68,183.27 L351.97,182.65 L352.27,182.76 L352.57,182.14 L352.86,182.35 L353.16,181.62 L353.46,181.79 L353.76,181.12 L354.05,181.12 L354.35,180.52 L354.65,180.55 L354.95,179.93 L355.24,180.07 L355.54,179.37 L355.84,179.52 L356.14,178.80 L356.43,178.88 L356.73,178.25 L357.03,178.44 L357.32,177.83 L357.62,178.01 L357.92,177.31 L358.22,177.67 L358.51,177.07 L358.81,177.39 L359.11,176.81 L359.41,177.06 L359.70,176.58 L360.00,177.00 L360.30,176.62 L360.60,177.07 L360.90,176.69 L361.20,177.17 L361.50,176.87 L361.80,177.52 L362.10,177.11 L362.40,177.68 L362.70,177.41 L363.00,178.06 L363.30,177.74 L363.60,178.46 L363.90,178.26 L364.20,178.90 L364.50,178.59 L364.80,179.28 L365.10,179.02 L365.40,179.73 L365.70,179.58 L366.00,180.28 L366.30,180.00 L366.60,180.63 L366.90,180.51 L367.20,181.18 L367.50,180.80 L367.80,181.58 L368.10,181.26 L368.40,181.99 L368.70,181.75 L369.00,182.39 L369.30,182.15 L369.60,182.81 L369.90,182.50 L370.20,183.04 L370.50,182.73 L370.80,183.38 L371.10,183.04 L371.40,183.59 L371.70,183.32 L372.00,183.86 L372.30,183.40 L372.60,184.05 L372.90,183.50 L373.20,183.97 L373.49,183.43 L373.79,183.75 L374.09,183.33 L374.39,183.71 L374.68,183.14 L374.98,183.54 L375.28,182.86 L375.58,183.44 L375.88,182.70 L376.17,183.33 L376.47,182.64 L376.77,183.09 L377.07,182.47 L377.36,182.83 L377.66,182.15 L377.96,182.66 L378.26,182.06 L378.56,182.33 L378.85,181.68 L379.15,182.24 L379.45,181.47 L379.75,181.91 L380.04,181.21 L380.34,181.76 L380.64,181.12 L380.94,181.45 L381.24,180.80 L381.53,181.42 L381.83,180.60 L382.13,181.07 L382.43,180.38 L382.72,180.87 L383.02,180.22 L383.32,180.75 L383.62,180.20 L383.92,180.63 L384.21,179.95 L384.51,180.60 L384.81,179.79 L385.11,180.36 L385.40,179.72 L385.70,180.28 L386.00,179.65 L386.30,180.40 L386.61,179.81 L386.91,180.49 L387.21,180.02 L387.52,180.86 L387.82,180.33 L388.12,181.10 L388.43,180.71 L388.73,181.73 L389.04,181.18 L389.34,182.00 L389.64,181.57 L389.95,182.59 L390.25,182.23 L390.55,183.11 L390.86,182.58 L391.16,183.47 L391.46,183.13 L391.77,184.06 L392.07,183.48 L392.38,184.32 L392.68,183.97 L392.98,184.85 L393.29,184.25 L393.59,185.16 L393.89,184.48 L394.20,185.29 L394.50,184.65 L394.80,185.18 L395.11,184.44 L395.41,185.09 L395.71,184.42 L396.02,184.90 L396.32,183.96 L396.63,184.52 L396.93,183.75 L397.23,184.14 L397.54,183.26 L397.84,183.73 L398.14,182.86 L398.45,183.15 L398.75,182.41 L399.06,182.61 L399.36,181.89 L399.66,182.33 L399.97,181.43 L400.27,181.81 L400.57,180.91 L400.88,181.55 L401.18,180.57 L401.49,181.15 L401.79,180.49 L402.09,181.08 L402.40,180.34 L402.70,180.90 L403.00,180.06 L403.29,180.87 L403.59,180.14 L403.89,180.77 L404.19,180.19 L404.48,180.67 L404.78,180.15 L405.08,180.76 L405.38,180.15 L405.67,180.85 L405.97,179.94 L406.27,180.65 L406.57,180.01 L406.86,180.76 L407.16,179.98 L407.46,180.59 L407.76,179.87 L408.05,180.60 L408.35,179.89 L408.65,180.62 L408.94,179.94 L409.24,180.57 L409.54,179.91 L409.84,180.52 L410.13,179.88 L410.43,180.53 L410.73,179.82 L411.03,180.54 L411.32,179.84 L411.62,180.45 L411.92,179.64 L412.22,180.46 L412.51,179.70 L412.81,180.36 L413.11,179.74 L413.41,180.42 L413.70,179.61 L414.00,180.33 L414.30,179.73 L414.60,180.55 L414.90,179.87 L415.20,180.54 L415.50,180.21 L415.80,180.97 L416.10,180.40 L416.40,181.24 L416.70,180.77 L417.00,181.47 L417.30,181.05 L417.60,181.95 L417.90,181.53 L418.20,182.36 L418.50,182.01 L418.80,182.88 L419.10,182.18 L419.40,183.00 L419.70,182.75 L420.00,183.42 L420.30,182.81 L420.60,183.70 L420.90,183.06 L421.20,183.86 L421.50,183.32 L421.80,184.11 L422.10,183.29 L422.39,183.87 L422.69,183.20 L422.98,183.78 L423.28,183.02 L423.58,183.45 L423.87,182.81 L424.17,183.31 L424.47,182.51 L424.76,182.86 L425.06,182.17 L425.35,182.72 L425.65,181.65 L425.95,182.25 L426.24,181.50 L426.54,181.90 L426.83,181.01 L427.13,181.63 L427.43,180.71 L427.72,181.42 L428.02,180.48 L428.32,181.20 L428.61,180.35 L428.91,180.85 L429.20,180.15 L429.50,180.95 L429.80,180.14 L430.11,180.77 L430.41,180.08 L430.71,180.96 L431.01,180.10 L431.32,180.91 L431.62,180.12 L431.92,180.83 L432.22,180.24 L432.53,181.04 L432.83,180.16 L433.13,181.03 L433.43,180.30 L433.74,181.02 L434.04,180.38 L434.34,180.95 L434.64,180.29 L434.95,181.08 L435.25,180.46 L435.55,181.05 L435.86,180.54 L436.16,181.05 L436.46,180.45 L436.76,181.11 L437.07,180.58 L437.37,181.29 L437.67,180.66 L437.97,181.34 L438.28,180.61 L438.58,181.34 L438.88,180.54 L439.18,181.33 L439.49,180.75 L439.79,181.34 L440.09,180.67 L440.39,181.27 L440.70,180.66 L441.00,181.37 L441.30,180.72 L441.61,181.34 L441.91,180.81 L442.21,181.34 L442.52,180.77 L442.82,181.61 L443.12,180.98 L443.42,181.62 L443.73,180.95 L444.03,181.74 L444.33,181.13 L444.64,181.74 L444.94,181.26 L445.24,182.00 L445.55,181.24 L445.85,182.12 L446.15,181.51 L446.45,182.14 L446.76,181.63 L447.06,182.34 L447.36,181.77 L447.67,182.47 L447.97,181.74 L448.27,182.53 L448.58,182.00 L448.88,182.56 L449.18,181.99 L449.48,182.76 L449.79,182.16 L450.09,182.80 L450.39,182.04 L450.70,182.87 L451.00,182.08 L451.30,182.95 L451.60,182.26 L451.89,182.80 L452.19,182.15 L452.49,182.90 L452.79,182.40 L453.09,183.01 L453.38,182.37 L453.68,182.98 L453.98,182.34 L454.28,183.13 L454.57,182.40 L454.87,183.17 L455.17,182.72 L455.47,183.42 L455.77,182.76 L456.06,183.52 L456.36,182.82 L456.66,183.57 L456.96,183.02 L457.26,183.58 L457.55,182.99 L457.85,183.86 L458.15,183.07 L458.45,183.96 L458.74,183.20 L459.04,184.09 L459.34,183.44 L459.64,183.99 L459.94,183.55 L460.23,184.21 L460.53,183.62 L460.83,184.17 L461.13,183.77 L461.43,184.32 L461.72,183.81 L462.02,184.42 L462.32,183.83 L462.62,184.57 L462.91,183.83 L463.21,184.57 L463.51,183.87 L463.81,184.62 L464.11,184.04 L464.40,184.67 L464.70,183.99 L465.00,184.79 L465.30,184.07 L465.60,184.63 L465.90,184.09 L466.20,184.53 L466.50,183.99 L466.80,184.44 L467.10,183.85 L467.40,184.39 L467.70,183.57 L468.00,184.20 L468.30,183.47 L468.60,184.00 L468.90,183.19 L469.20,183.99 L469.50,183.09 L469.80,183.77 L470.10,182.98 L470.40,183.54 L470.70,182.81 L471.00,183.46 L471.30,182.59 L471.60,183.30 L471.90,182.45 L472.20,182.96 L472.50,182.41 L472.80,182.98 L473.10,182.16 L473.40,182.92 L473.70,182.23 L474.00,182.87 L474.30,182.16 L474.59,182.98 L474.89,182.21 L475.19,182.80 L475.48,182.19 L475.78,182.92 L476.07,182.43 L476.37,183.22 L476.67,182.46 L476.96,183.26 L477.26,182.64 L477.56,183.31 L477.85,182.79 L478.15,183.52 L478.44,182.90 L478.74,183.49 L479.04,183.06 L479.33,183.61 L479.63,183.00 L479.93,183.74 L480.22,183.26 L480.52,183.93 L480.81,183.33 L481.11,184.04 L481.41,183.29 L481.70,184.03 L482.00,183.38 L482.30,183.98 L482.61,183.34 L482.91,184.00 L483.21,183.37 L483.52,183.80 L483.82,183.12 L484.12,183.81 L484.42,183.03 L484.73,183.58 L485.03,182.99 L485.33,183.51 L485.64,182.84 L485.94,183.41 L486.24,182.56 L486.55,183.25 L486.85,182.43 L487.15,183.13 L487.45,182.29 L487.76,182.82 L488.06,182.21 L488.36,182.62 L488.67,181.97 L488.97,182.64 L489.27,181.83 L489.58,182.36 L489.88,181.69 L490.18,182.39 L490.48,181.67 L490.79,182.25 L491.09,181.66 L491.39,182.20 L491.70,181.61 L492.00,182.09 L492.30,181.39 L492.59,182.15 L492.89,181.48 L493.19,182.20 L493.49,181.40 L493.78,182.18 L494.08,181.41 L494.38,182.08 L494.68,181.34 L494.97,181.90 L495.27,181.42 L495.57,181.87 L495.86,181.37 L496.16,182.05 L496.46,181.21 L496.76,181.94 L497.05,181.10 L497.35,181.76 L497.65,181.10 L497.95,181.80 L498.24,181.15 L498.54,181.81 L498.84,181.00 L499.14,181.73 L499.43,180.99 L499.73,181.75 L500.03,181.03 L500.32,181.71 L500.62,180.96 L500.92,181.70 L501.22,180.88 L501.51,181.60 L501.81,180.79 L502.11,181.55 L502.41,180.96 L502.70,181.54 L503.00,180.90 L503.30,181.66 L503.61,181.00 L503.91,181.65 L504.22,180.99 L504.52,181.62 L504.83,181.07 L505.13,181.86 L505.43,181.27 L505.74,182.09 L506.04,181.50 L506.35,182.17 L506.65,181.61 L506.96,182.29 L507.26,181.75 L507.57,182.49 L507.87,181.77 L508.17,182.48 L508.48,181.99 L508.78,182.75 L509.09,182.14 L509.39,182.73 L509.70,182.04 L510.00,182.73 L510.30,182.11 L510.60,182.78 L510.90,181.97 L511.20,182.47 L511.50,181.71 L511.80,182.24 L512.10,181.70 L512.40,182.12 L512.70,181.42 L513.00,181.78 L513.30,180.96 L513.60,181.56 L513.90,180.75 L514.20,181.40 L514.50,180.63 L514.80,181.20 L515.10,180.31 L515.40,180.97 L515.70,180.33 L516.00,180.92 L516.30,180.22 L516.61,180.85 L516.91,180.22 L517.22,180.92 L517.52,180.23 L517.82,181.15 L518.13,180.48 L518.43,181.09 L518.74,180.60 L519.04,181.42 L519.34,180.76 L519.65,181.44 L519.95,180.93 L520.26,181.58 L520.56,180.89 L520.86,181.70 L521.17,181.26 L521.47,181.88 L521.78,181.19 L522.08,181.92 L522.38,181.45 L522.69,182.01 L522.99,181.36 L523.30,182.10 L523.60,181.80" stroke="#77AC30" stroke-width="1.6"/>
</g>
<g stroke="#262626" fill="none" stroke-linecap="butt">
<path d="M88.50,13.35 V350.65" stroke-width="1.25"/>
<path d="M523.70,13.35 V350.65" stroke-width="1.3"/>
<path d="M87.90,14.10 H524.35" stroke-width="1.5"/>
<path d="M87.90,349.90 H524.35" stroke-width="1.5"/>
<path d="M161.10,349.90 v-4.6 M161.10,14.10 v4.6 M233.60,349.90 v-4.6 M233.60,14.10 v4.6 M306.10,349.90 v-4.6 M306.10,14.10 v4.6 M378.60,349.90 v-4.6 M378.60,14.10 v4.6 M451.10,349.90 v-4.6 M451.10,14.10 v4.6 M88.50,61.97 h4.6 M523.70,61.97 h-4.6 M88.50,109.94 h4.6 M523.70,109.94 h-4.6 M88.50,157.91 h4.6 M523.70,157.91 h-4.6 M88.50,205.89 h4.6 M523.70,205.89 h-4.6 M88.50,253.86 h4.6 M523.70,253.86 h-4.6 M88.50,301.83 h4.6 M523.70,301.83 h-4.6" stroke-width="1.4"/>
</g>
<g font-family="'Liberation Serif', serif" font-size="26" fill="#151515">
<text transform="translate(137.51,377.00) scale(0.9900,1.0700)">0.10</text>
<text transform="translate(209.78,377.00) scale(0.9900,1.0700)">0.12</text>
<text transform="translate(283.21,377.00) scale(0.9900,1.0700)">0.14</text>
<text transform="translate(356.07,377.00) scale(0.9900,1.0700)">0.16</text>
<text transform="translate(429.77,377.00) scale(0.9900,1.0700)">0.18</text>
<text transform="translate(501.71,377.00) scale(0.9900,1.0700)">0.20</text>
<text transform="translate(39.41,26.00) scale(0.9900,1.0700)">150</text>
<text transform="translate(39.41,74.03) scale(0.9900,1.0700)">100</text>
<text transform="translate(51.85,122.06) scale(0.9900,1.0700)">50</text>
<text transform="translate(63.67,170.09) scale(0.9900,1.0700)">0</text>
<text transform="translate(40.65,218.12) scale(0.9800,1.0700)">−50</text>
<text transform="translate(29.85,266.15) scale(0.9800,1.0700)">−100</text>
<text transform="translate(29.85,314.18) scale(0.9800,1.0700)">−150</text>
<text transform="translate(29.85,362.21) scale(0.9800,1.0700)">−200</text>
</g>
<g font-family="'Liberation Serif', serif" font-size="27" fill="#151515">
<text y="410.8"><tspan x="260.80" textLength="56.60" lengthAdjust="spacingAndGlyphs">Time</tspan> <tspan x="324.30" dy="3.6" font-size="33" textLength="8.40" lengthAdjust="spacingAndGlyphs">/</tspan><tspan dy="-3.6" font-size="8"> </tspan><tspan x="338.40" textLength="11.40" lengthAdjust="spacingAndGlyphs">s</tspan></text>
<text transform="translate(24.3,322.5) rotate(-90)" y="0"><tspan x="-0.40" textLength="65.80" lengthAdjust="spacingAndGlyphs">Aerial</tspan> <tspan x="74.20" textLength="61.80" lengthAdjust="spacingAndGlyphs">Mode</tspan> <tspan x="143.60" textLength="85.60" lengthAdjust="spacingAndGlyphs">Current</tspan> <tspan x="238.60" dy="3.6" font-size="33" textLength="11.00" lengthAdjust="spacingAndGlyphs">/</tspan><tspan dy="-3.6" font-size="8"> </tspan><tspan x="253.90" textLength="18.20" lengthAdjust="spacingAndGlyphs">A</tspan></text>
</g>
<rect x="377.1" y="29.6" width="128.7" height="77.1" fill="#fff" stroke="#262626" stroke-width="1.2"/>
<path d="M391.3,44.5 H437.4" stroke="#0072BD" stroke-width="1.15" fill="none"/>
<text x="447" y="52.7" font-family="'Liberation Serif', serif" font-size="24.8" fill="#000">2 km</text>
<path d="M391.3,67.6 H437.4" stroke="#D95319" stroke-width="1.15" fill="none"/>
<text x="447" y="75.0" font-family="'Liberation Serif', serif" font-size="24.8" fill="#000">5 km</text>
<path d="M391.3,89.5 H437.4" stroke="#77AC30" stroke-width="1.15" fill="none"/>
<text x="447" y="97.3" font-family="'Liberation Serif', serif" font-size="24.8" fill="#000">8 km</text>
</svg>
</body></html>
